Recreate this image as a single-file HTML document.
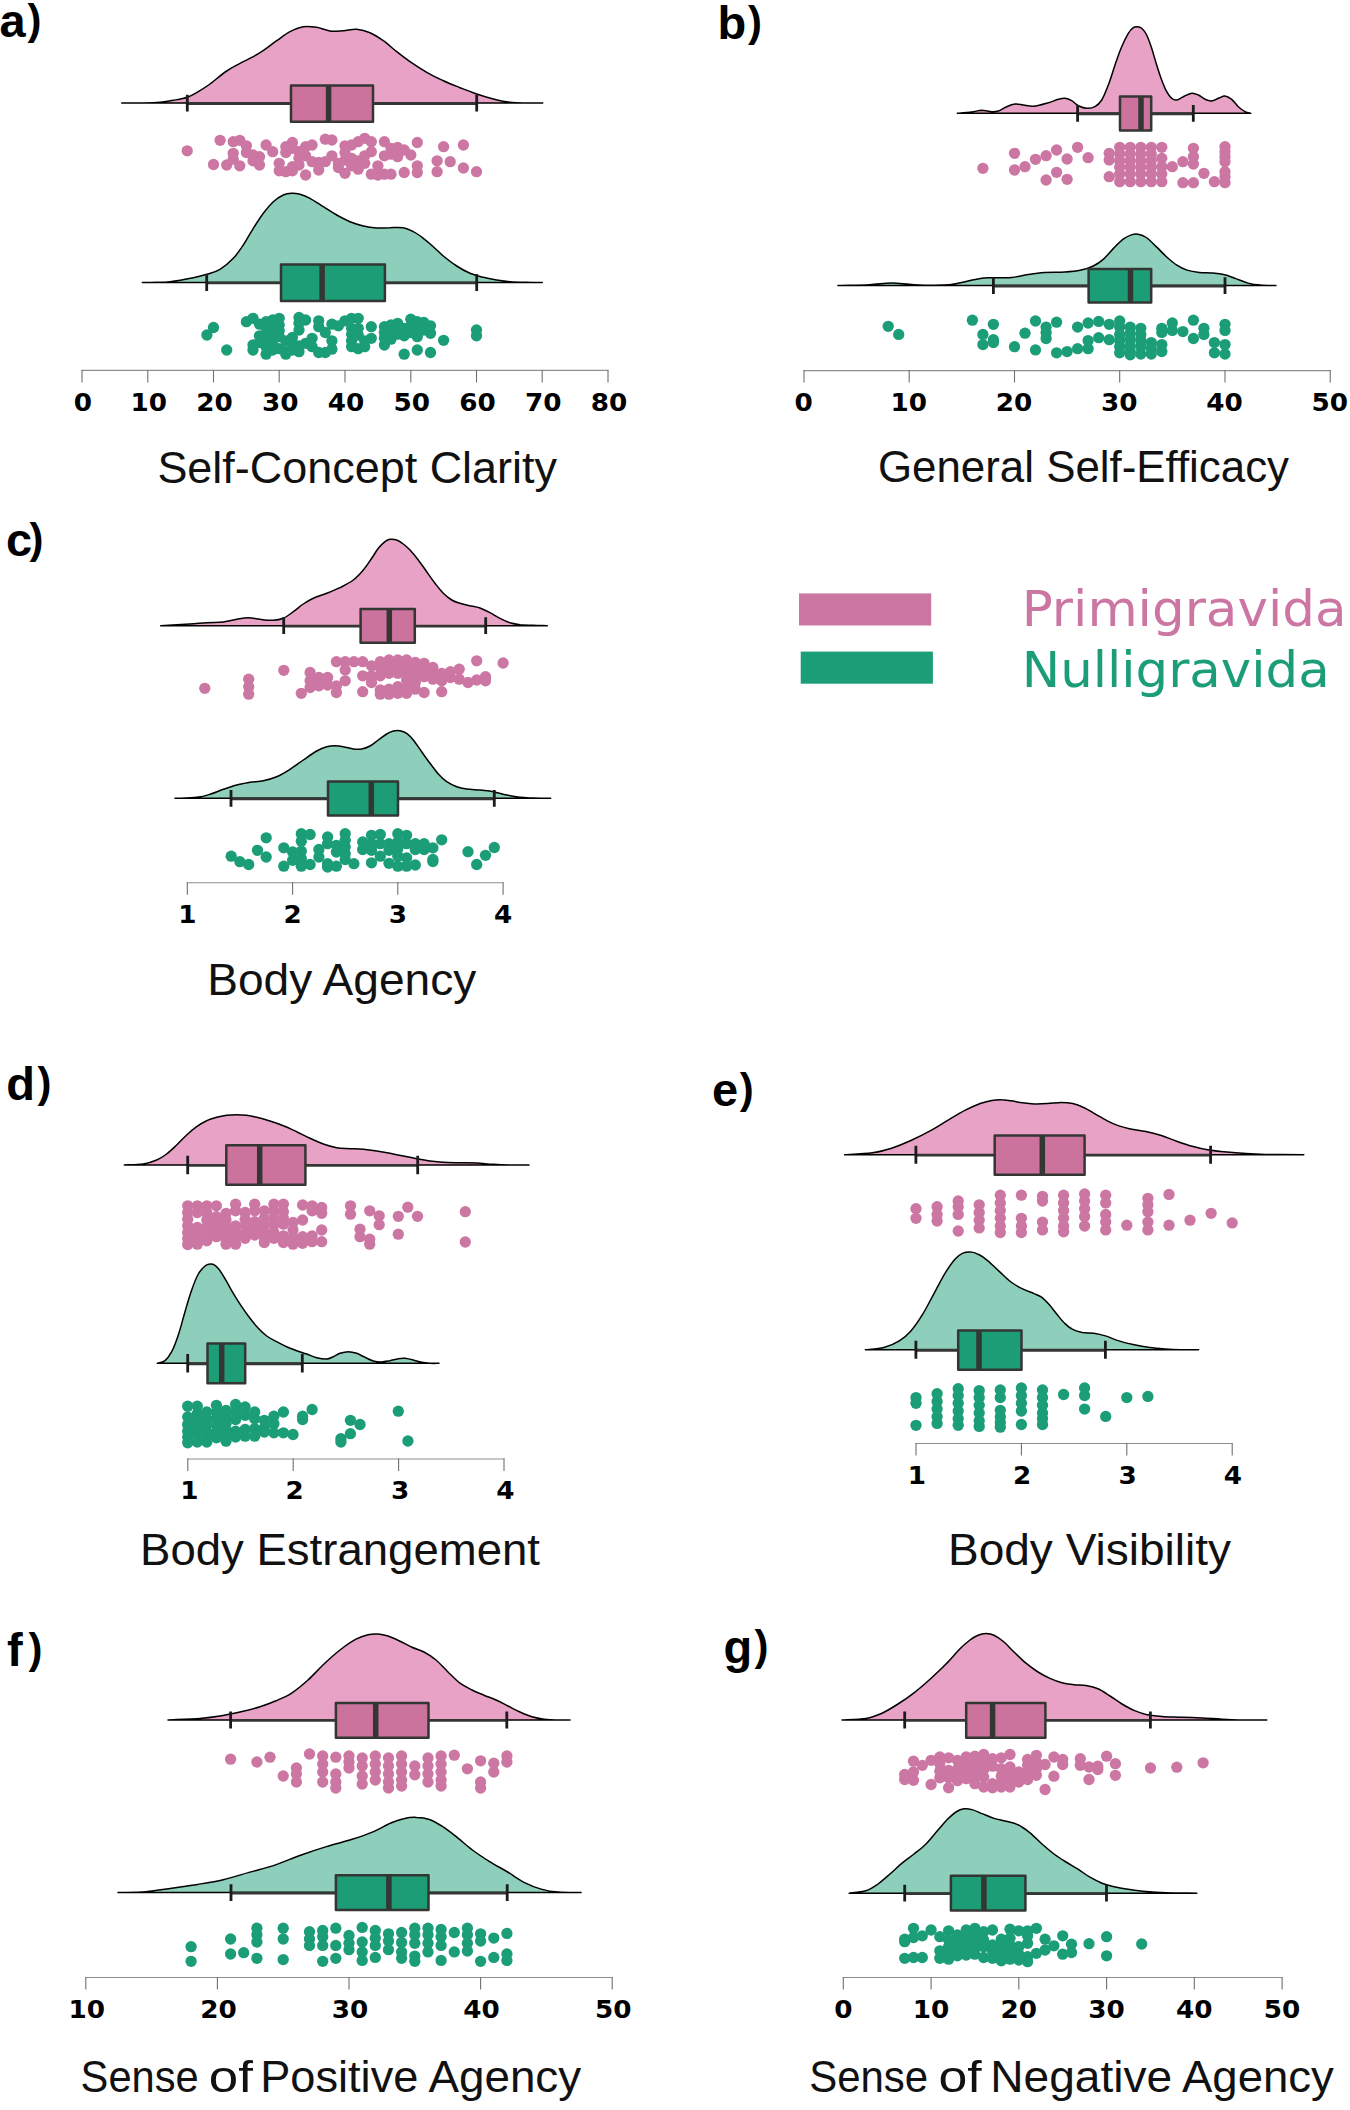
<!DOCTYPE html>
<html lang="en"><head><meta charset="utf-8"><title>Raincloud plots: Primigravida vs Nulligravida</title>
<style>
html,body{margin:0;padding:0;background:#fff}
body{width:1350px;height:2110px;overflow:hidden}
svg{display:block}
.tk{font-family:"DejaVu Sans","Liberation Sans",sans-serif;font-weight:bold;font-size:25.6px;text-anchor:middle;fill:#000}
.ti{font-family:"Liberation Sans","DejaVu Sans",sans-serif;font-size:45px;text-anchor:middle;fill:#111}
.pl{font-family:"Liberation Sans","DejaVu Sans",sans-serif;font-weight:bold;font-size:47px;fill:#000}
.pp{font-family:"Liberation Sans","DejaVu Sans",sans-serif;font-weight:bold;font-size:41.8px;fill:#000}
.lg{font-family:"DejaVu Sans","Liberation Sans",sans-serif;font-size:50px}
</style></head><body>
<svg width="1350" height="2110" viewBox="0 0 1350 2110">
<rect width="1350" height="2110" fill="#fff"/>
<g>
<path d="M121.7 103C125.3 103 136.9 103.1 143.3 103C149.7 102.9 155 102.8 160 102.3C165 101.9 168.8 101.2 173.3 100.3C177.9 99.5 183.2 98.8 187.3 97.3C191.5 95.9 194.6 93.9 198.3 91.7C202.1 89.4 205.3 87.4 210 84C214.7 80.6 221.1 74.7 226.7 71C232.2 67.3 237.8 64.7 243.3 61.7C248.9 58.6 254.4 56.2 260 52.7C265.6 49.2 271.7 44.2 276.7 40.7C281.7 37.2 285.6 34 290 31.7C294.4 29.3 298.9 27.4 303.3 26.7C307.8 25.9 312.2 26.6 316.7 27.3C321.1 28.1 325.6 30.4 330 31C334.4 31.6 338.9 30.9 343.3 30.7C347.8 30.4 352.2 29 356.7 29.3C361.1 29.7 365.6 30.8 370 32.7C374.4 34.6 378.9 37.5 383.3 40.7C387.8 43.8 392.2 48.2 396.7 51.7C401.1 55.2 405 58.2 410 61.7C415 65.1 421.1 69.2 426.7 72.3C432.2 75.5 437.8 78.1 443.3 80.7C448.9 83.2 454.4 85.4 460 87.7C465.6 89.9 471.1 92.1 476.7 94C482.2 95.9 487.8 97.6 493.3 99C498.9 100.4 504.4 101.7 510 102.3C515.6 103 521.2 102.9 526.7 103C532.1 103.1 540 103 542.7 103Z" fill="#E8A2C5" stroke="#000" stroke-width="1.5" stroke-linejoin="round"/>
<g fill="#CC77A3"><circle cx="187.2" cy="150.8" r="5.65"/><circle cx="213.5" cy="164.5" r="5.65"/><circle cx="220.1" cy="140.3" r="5.65"/><circle cx="226.7" cy="165" r="5.65"/><circle cx="233.2" cy="141.7" r="5.65"/><circle cx="233.2" cy="153.3" r="5.65"/><circle cx="233.2" cy="159.2" r="5.65"/><circle cx="239.8" cy="140.3" r="5.65"/><circle cx="239.8" cy="165.8" r="5.65"/><circle cx="246.4" cy="145.8" r="5.65"/><circle cx="246.4" cy="152.5" r="5.65"/><circle cx="253" cy="155" r="5.65"/><circle cx="253" cy="160.8" r="5.65"/><circle cx="259.5" cy="156.7" r="5.65"/><circle cx="259.5" cy="165" r="5.65"/><circle cx="266.1" cy="145" r="5.65"/><circle cx="272.7" cy="151.7" r="5.65"/><circle cx="279.2" cy="163.3" r="5.65"/><circle cx="279.2" cy="170.8" r="5.65"/><circle cx="285.8" cy="146.7" r="5.65"/><circle cx="285.8" cy="152.5" r="5.65"/><circle cx="285.8" cy="171.7" r="5.65"/><circle cx="292.4" cy="142.5" r="5.65"/><circle cx="292.4" cy="148.3" r="5.65"/><circle cx="292.4" cy="166.7" r="5.65"/><circle cx="292.4" cy="170.8" r="5.65"/><circle cx="299" cy="151.7" r="5.65"/><circle cx="299" cy="158.3" r="5.65"/><circle cx="299" cy="165" r="5.65"/><circle cx="305.6" cy="146.7" r="5.65"/><circle cx="305.6" cy="155.8" r="5.65"/><circle cx="305.6" cy="175" r="5.65"/><circle cx="312.1" cy="145" r="5.65"/><circle cx="312.1" cy="161.7" r="5.65"/><circle cx="318.7" cy="162.5" r="5.65"/><circle cx="318.7" cy="170" r="5.65"/><circle cx="325.3" cy="139.2" r="5.65"/><circle cx="325.3" cy="161.7" r="5.65"/><circle cx="331.9" cy="140" r="5.65"/><circle cx="331.9" cy="155.8" r="5.65"/><circle cx="338.4" cy="163.3" r="5.65"/><circle cx="338.4" cy="167.5" r="5.65"/><circle cx="345" cy="145.8" r="5.65"/><circle cx="345" cy="152.5" r="5.65"/><circle cx="345" cy="160" r="5.65"/><circle cx="345" cy="173.3" r="5.65"/><circle cx="351.6" cy="145" r="5.65"/><circle cx="351.6" cy="158.3" r="5.65"/><circle cx="351.6" cy="165.8" r="5.65"/><circle cx="358.2" cy="141.7" r="5.65"/><circle cx="358.2" cy="160.8" r="5.65"/><circle cx="358.2" cy="169.2" r="5.65"/><circle cx="364.7" cy="138.3" r="5.65"/><circle cx="364.7" cy="155.8" r="5.65"/><circle cx="364.7" cy="163.3" r="5.65"/><circle cx="371.3" cy="141.7" r="5.65"/><circle cx="371.3" cy="151.7" r="5.65"/><circle cx="371.3" cy="174.2" r="5.65"/><circle cx="377.9" cy="165.8" r="5.65"/><circle cx="377.9" cy="175" r="5.65"/><circle cx="384.4" cy="141.7" r="5.65"/><circle cx="384.4" cy="155.8" r="5.65"/><circle cx="384.4" cy="174.2" r="5.65"/><circle cx="391" cy="148.3" r="5.65"/><circle cx="391" cy="154.2" r="5.65"/><circle cx="391" cy="174.2" r="5.65"/><circle cx="397.6" cy="147.5" r="5.65"/><circle cx="397.6" cy="156.7" r="5.65"/><circle cx="404.2" cy="150" r="5.65"/><circle cx="404.2" cy="172.5" r="5.65"/><circle cx="410.8" cy="155" r="5.65"/><circle cx="417.3" cy="142.5" r="5.65"/><circle cx="417.3" cy="165.8" r="5.65"/><circle cx="417.3" cy="172.5" r="5.65"/><circle cx="437.1" cy="160.8" r="5.65"/><circle cx="437.1" cy="171.7" r="5.65"/><circle cx="443.6" cy="146.7" r="5.65"/><circle cx="450.2" cy="161.7" r="5.65"/><circle cx="463.4" cy="145" r="5.65"/><circle cx="463.4" cy="168" r="5.65"/><circle cx="476.5" cy="171.7" r="5.65"/></g>
<path d="M187.3 103.6H476.7" stroke="#343634" stroke-width="2.9" fill="none"/>
<path d="M187.3 94.8V111.6M476.7 94.8V111.6" stroke="#1c1c1c" stroke-width="2.8" fill="none"/>
<rect x="291" y="85.4" width="82" height="36.3" fill="#CC739D" stroke="#343634" stroke-width="2.5" stroke-linejoin="round"/>
<path d="M328.6 85.4V121.7" stroke="#343634" stroke-width="5.5" fill="none"/>
<path d="M142.3 282.5C144.7 282.5 152.1 282.5 156.7 282.3C161.3 282.2 163.9 282.4 170 281.7C176.1 280.9 187.2 278.9 193.3 277.7C199.4 276.4 202.2 275.7 206.7 274.3C211.1 272.9 215.6 272 220 269.3C224.4 266.7 229.4 262.4 233.3 258.3C237.2 254.3 240 250 243.3 245C246.7 240 250 233.6 253.3 228.3C256.7 223.1 260 217.8 263.3 213.3C266.7 208.9 270 204.7 273.3 201.7C276.7 198.6 280.3 196.4 283.3 195C286.4 193.6 288.9 193.4 291.7 193.3C294.4 193.2 296.9 193.5 300 194.3C303.1 195.2 306.1 196.3 310 198.3C313.9 200.4 318.9 203.9 323.3 206.7C327.8 209.4 332.2 212.5 336.7 215C341.1 217.5 345.6 219.8 350 221.7C354.4 223.5 358.9 224.9 363.3 226C367.8 227.1 372.2 227.7 376.7 228C381.1 228.3 385.6 227.7 390 227.7C394.4 227.6 399.4 227 403.3 227.7C407.2 228.3 410 229.9 413.3 231.7C416.7 233.4 420 235.8 423.3 238.3C426.7 240.8 430 243.7 433.3 246.7C436.7 249.6 439.4 252.8 443.3 256C447.2 259.2 452.2 263.1 456.7 266C461.1 268.9 465.6 271.4 470 273.3C474.4 275.2 478.9 276.2 483.3 277.3C487.8 278.4 492.2 279.3 496.7 280C501.1 280.7 505 281.3 510 281.7C515 282.1 521.3 282.2 526.7 282.3C532.1 282.5 539.7 282.5 542.3 282.5Z" fill="#8ECFBB" stroke="#000" stroke-width="1.5" stroke-linejoin="round"/>
<g fill="#1B9E77"><circle cx="206.9" cy="335" r="5.65"/><circle cx="213.5" cy="327.5" r="5.65"/><circle cx="226.7" cy="350" r="5.65"/><circle cx="246.4" cy="321.7" r="5.65"/><circle cx="253" cy="318.3" r="5.65"/><circle cx="253" cy="345" r="5.65"/><circle cx="253" cy="350" r="5.65"/><circle cx="259.5" cy="324.2" r="5.65"/><circle cx="259.5" cy="335.8" r="5.65"/><circle cx="259.5" cy="342.5" r="5.65"/><circle cx="266.1" cy="321.7" r="5.65"/><circle cx="266.1" cy="327.5" r="5.65"/><circle cx="266.1" cy="333.7" r="5.65"/><circle cx="266.1" cy="340" r="5.65"/><circle cx="266.1" cy="346.7" r="5.65"/><circle cx="266.1" cy="354.2" r="5.65"/><circle cx="272.7" cy="320" r="5.65"/><circle cx="272.7" cy="325.8" r="5.65"/><circle cx="272.7" cy="331.7" r="5.65"/><circle cx="272.7" cy="338.3" r="5.65"/><circle cx="272.7" cy="344.2" r="5.65"/><circle cx="272.7" cy="350" r="5.65"/><circle cx="279.2" cy="318.3" r="5.65"/><circle cx="279.2" cy="325" r="5.65"/><circle cx="279.2" cy="330.8" r="5.65"/><circle cx="279.2" cy="336.7" r="5.65"/><circle cx="279.2" cy="348.7" r="5.65"/><circle cx="285.8" cy="340.8" r="5.65"/><circle cx="285.8" cy="351.7" r="5.65"/><circle cx="285.8" cy="354.2" r="5.65"/><circle cx="292.4" cy="337.5" r="5.65"/><circle cx="292.4" cy="344.2" r="5.65"/><circle cx="292.4" cy="350" r="5.65"/><circle cx="299" cy="317.5" r="5.65"/><circle cx="299" cy="323.3" r="5.65"/><circle cx="299" cy="330" r="5.65"/><circle cx="299" cy="345.8" r="5.65"/><circle cx="299" cy="351.7" r="5.65"/><circle cx="305.6" cy="320" r="5.65"/><circle cx="305.6" cy="343.3" r="5.65"/><circle cx="312.1" cy="338.3" r="5.65"/><circle cx="312.1" cy="346.7" r="5.65"/><circle cx="318.7" cy="320.8" r="5.65"/><circle cx="318.7" cy="326.7" r="5.65"/><circle cx="318.7" cy="352.5" r="5.65"/><circle cx="325.3" cy="332.5" r="5.65"/><circle cx="325.3" cy="352.5" r="5.65"/><circle cx="331.9" cy="324.2" r="5.65"/><circle cx="331.9" cy="340.8" r="5.65"/><circle cx="331.9" cy="349.2" r="5.65"/><circle cx="338.4" cy="325.8" r="5.65"/><circle cx="345" cy="320.8" r="5.65"/><circle cx="351.6" cy="318.3" r="5.65"/><circle cx="351.6" cy="328.3" r="5.65"/><circle cx="351.6" cy="334.2" r="5.65"/><circle cx="351.6" cy="340.8" r="5.65"/><circle cx="351.6" cy="346.7" r="5.65"/><circle cx="358.2" cy="318.3" r="5.65"/><circle cx="358.2" cy="328.3" r="5.65"/><circle cx="358.2" cy="335" r="5.65"/><circle cx="358.2" cy="348.7" r="5.65"/><circle cx="364.7" cy="340.8" r="5.65"/><circle cx="364.7" cy="346.7" r="5.65"/><circle cx="371.3" cy="326.7" r="5.65"/><circle cx="371.3" cy="338.3" r="5.65"/><circle cx="384.4" cy="326.7" r="5.65"/><circle cx="384.4" cy="332.5" r="5.65"/><circle cx="384.4" cy="338.3" r="5.65"/><circle cx="384.4" cy="345" r="5.65"/><circle cx="391" cy="325" r="5.65"/><circle cx="391" cy="332.5" r="5.65"/><circle cx="391" cy="339.2" r="5.65"/><circle cx="397.6" cy="323.3" r="5.65"/><circle cx="397.6" cy="329.2" r="5.65"/><circle cx="397.6" cy="334.2" r="5.65"/><circle cx="404.2" cy="328.3" r="5.65"/><circle cx="404.2" cy="335.8" r="5.65"/><circle cx="404.2" cy="354.2" r="5.65"/><circle cx="410.8" cy="319.2" r="5.65"/><circle cx="410.8" cy="325.8" r="5.65"/><circle cx="410.8" cy="332.5" r="5.65"/><circle cx="417.3" cy="321.7" r="5.65"/><circle cx="417.3" cy="330" r="5.65"/><circle cx="417.3" cy="336.7" r="5.65"/><circle cx="417.3" cy="350" r="5.65"/><circle cx="423.9" cy="322.5" r="5.65"/><circle cx="423.9" cy="330" r="5.65"/><circle cx="430.5" cy="325.8" r="5.65"/><circle cx="430.5" cy="333.3" r="5.65"/><circle cx="430.5" cy="352.5" r="5.65"/><circle cx="443.6" cy="340.3" r="5.65"/><circle cx="476.5" cy="330" r="5.65"/><circle cx="476.5" cy="335.8" r="5.65"/></g>
<path d="M206.7 282.9H476.7" stroke="#343634" stroke-width="2.9" fill="none"/>
<path d="M206.7 274.1V290.9M476.7 274.1V290.9" stroke="#1c1c1c" stroke-width="2.8" fill="none"/>
<rect x="281" y="264.6" width="103.9" height="36.4" fill="#1C9D76" stroke="#343634" stroke-width="2.5" stroke-linejoin="round"/>
<path d="M322.1 264.6V301" stroke="#343634" stroke-width="5.5" fill="none"/>
<path d="M81.5 370.4H608.5" stroke="#8e8e8e" stroke-width="1.1" fill="none"/>
<path d="M82 369.9V382.4M147.8 369.9V382.4M213.5 369.9V382.4M279.2 369.9V382.4M345 369.9V382.4M410.8 369.9V382.4M476.5 369.9V382.4M542.2 369.9V382.4M608 369.9V382.4" stroke="#707070" stroke-width="1.1" fill="none"/>
<text class="tk" transform="translate(83 410.8) scale(1.025 1)">0</text>
<text class="tk" transform="translate(148.8 410.8) scale(1.025 1)">10</text>
<text class="tk" transform="translate(214.5 410.8) scale(1.025 1)">20</text>
<text class="tk" transform="translate(280.2 410.8) scale(1.025 1)">30</text>
<text class="tk" transform="translate(346 410.8) scale(1.025 1)">40</text>
<text class="tk" transform="translate(411.8 410.8) scale(1.025 1)">50</text>
<text class="tk" transform="translate(477.5 410.8) scale(1.025 1)">60</text>
<text class="tk" transform="translate(543.2 410.8) scale(1.025 1)">70</text>
<text class="tk" transform="translate(609 410.8) scale(1.025 1)">80</text>
<text class="ti" x="357.2" y="482.7" textLength="399.6" lengthAdjust="spacingAndGlyphs">Self-Concept Clarity</text>
</g>
<g>
<path d="M957.3 113.3C959.7 113.1 967.6 112.5 971.7 112C975.7 111.5 978.3 110.4 981.7 110.3C985 110.3 988.9 111.6 991.7 111.7C994.4 111.8 995.8 111.8 998.3 111C1000.8 110.2 1003.9 107.8 1006.7 106.7C1009.4 105.5 1012.2 104.3 1015 104C1017.8 103.7 1020.3 104.6 1023.3 105C1026.4 105.4 1029.4 106.6 1033.3 106.3C1037.2 106.1 1042.5 104.5 1046.7 103.3C1050.8 102.2 1055.3 100.2 1058.3 99.3C1061.4 98.5 1062.8 98.1 1065 98.3C1067.2 98.6 1069.4 99.4 1071.7 100.7C1073.9 101.9 1075.8 104.4 1078.3 105.7C1080.8 106.9 1083.9 108.2 1086.7 108.3C1089.4 108.5 1092.5 108.1 1095 106.7C1097.5 105.3 1099.4 103.6 1101.7 100C1103.9 96.4 1106.1 90.8 1108.3 85C1110.6 79.2 1112.8 71.4 1115 65C1117.2 58.6 1119.4 51.9 1121.7 46.7C1123.9 41.4 1126.4 36.5 1128.3 33.3C1130.3 30.2 1131.8 28.8 1133.3 27.7C1134.8 26.6 1135.9 26.6 1137.3 26.7C1138.7 26.8 1140.1 26.9 1141.7 28.3C1143.2 29.7 1145 31.7 1146.7 35C1148.3 38.3 1150 43.3 1151.7 48.3C1153.3 53.3 1155 59.7 1156.7 65C1158.3 70.3 1160 75.6 1161.7 80C1163.3 84.4 1165 88.6 1166.7 91.7C1168.3 94.7 1170 96.9 1171.7 98.3C1173.3 99.7 1174.7 100.3 1176.7 100C1178.6 99.7 1180.8 97.8 1183.3 96.7C1185.8 95.6 1189.2 93.6 1191.7 93.3C1194.2 93.1 1196.1 94 1198.3 95C1200.6 96 1202.8 98.3 1205 99.3C1207.2 100.3 1209.4 101.2 1211.7 101C1213.9 100.8 1216.1 99.2 1218.3 98.3C1220.6 97.5 1222.8 95.8 1225 96C1227.2 96.2 1229.4 97.6 1231.7 99.3C1233.9 101.1 1236.1 104.6 1238.3 106.7C1240.6 108.7 1242.9 110.6 1245 111.7C1247.1 112.8 1249.7 113 1250.7 113.3Z" fill="#E8A2C5" stroke="#000" stroke-width="1.5" stroke-linejoin="round"/>
<g fill="#CC77A3"><circle cx="982.9" cy="168.3" r="5.65"/><circle cx="1014.5" cy="153.3" r="5.65"/><circle cx="1014.5" cy="170" r="5.65"/><circle cx="1025" cy="166.7" r="5.65"/><circle cx="1035.5" cy="159.3" r="5.65"/><circle cx="1046.1" cy="155.7" r="5.65"/><circle cx="1046.1" cy="180" r="5.65"/><circle cx="1056.6" cy="150" r="5.65"/><circle cx="1056.6" cy="172.3" r="5.65"/><circle cx="1067.1" cy="159" r="5.65"/><circle cx="1067.1" cy="179.3" r="5.65"/><circle cx="1077.6" cy="147.3" r="5.65"/><circle cx="1088.1" cy="157.7" r="5.65"/><circle cx="1109.2" cy="153.3" r="5.65"/><circle cx="1109.2" cy="160" r="5.65"/><circle cx="1109.2" cy="176.7" r="5.65"/><circle cx="1119.7" cy="147.3" r="5.65"/><circle cx="1119.7" cy="154" r="5.65"/><circle cx="1119.7" cy="160.7" r="5.65"/><circle cx="1119.7" cy="167.3" r="5.65"/><circle cx="1119.7" cy="174" r="5.65"/><circle cx="1119.7" cy="181.7" r="5.65"/><circle cx="1130.2" cy="147.3" r="5.65"/><circle cx="1130.2" cy="154" r="5.65"/><circle cx="1130.2" cy="160.7" r="5.65"/><circle cx="1130.2" cy="167.3" r="5.65"/><circle cx="1130.2" cy="174" r="5.65"/><circle cx="1130.2" cy="181.7" r="5.65"/><circle cx="1140.8" cy="147.3" r="5.65"/><circle cx="1140.8" cy="154" r="5.65"/><circle cx="1140.8" cy="160.7" r="5.65"/><circle cx="1140.8" cy="167.3" r="5.65"/><circle cx="1140.8" cy="174" r="5.65"/><circle cx="1140.8" cy="181.7" r="5.65"/><circle cx="1151.3" cy="147.3" r="5.65"/><circle cx="1151.3" cy="154" r="5.65"/><circle cx="1151.3" cy="160.7" r="5.65"/><circle cx="1151.3" cy="167.3" r="5.65"/><circle cx="1151.3" cy="174" r="5.65"/><circle cx="1151.3" cy="181.7" r="5.65"/><circle cx="1161.8" cy="147.3" r="5.65"/><circle cx="1161.8" cy="158.3" r="5.65"/><circle cx="1161.8" cy="166.7" r="5.65"/><circle cx="1161.8" cy="174" r="5.65"/><circle cx="1161.8" cy="181.7" r="5.65"/><circle cx="1172.3" cy="166.7" r="5.65"/><circle cx="1182.9" cy="161.7" r="5.65"/><circle cx="1182.9" cy="182.7" r="5.65"/><circle cx="1193.4" cy="148.3" r="5.65"/><circle cx="1193.4" cy="156.7" r="5.65"/><circle cx="1193.4" cy="164" r="5.65"/><circle cx="1193.4" cy="182.7" r="5.65"/><circle cx="1203.9" cy="173.3" r="5.65"/><circle cx="1214.4" cy="181.7" r="5.65"/><circle cx="1225" cy="146.7" r="5.65"/><circle cx="1225" cy="151.7" r="5.65"/><circle cx="1225" cy="156.7" r="5.65"/><circle cx="1225" cy="161.7" r="5.65"/><circle cx="1225" cy="171.7" r="5.65"/><circle cx="1225" cy="176.7" r="5.65"/><circle cx="1225" cy="182.7" r="5.65"/></g>
<path d="M1077.6 113.7H1193.3" stroke="#343634" stroke-width="2.9" fill="none"/>
<path d="M1077.6 104.9V121.7M1193.3 104.9V121.7" stroke="#1c1c1c" stroke-width="2.8" fill="none"/>
<rect x="1120" y="96.4" width="31.2" height="34" fill="#CC739D" stroke="#343634" stroke-width="2.5" stroke-linejoin="round"/>
<path d="M1141 96.4V130.4" stroke="#343634" stroke-width="5.5" fill="none"/>
<path d="M837.9 285.6C843.1 285.4 860.3 285.1 869.3 284.7C878.2 284.3 884.2 283.1 891.7 283.1C899.1 283.1 905.6 284.4 914.1 284.7C922.6 285.1 935.1 285.4 942.6 285.1C950.1 284.9 953.5 284.1 958.9 283.1C964.3 282.2 970.4 280.3 975.2 279.4C979.9 278.6 983.3 278.1 987.4 277.8C991.5 277.5 995.6 277.9 999.6 277.8C1003.7 277.7 1007.1 278 1011.9 277.4C1016.6 276.9 1022.7 275.4 1028.1 274.6C1033.6 273.7 1038.3 272.9 1044.4 272.5C1050.6 272.1 1058.7 272.5 1064.8 272.1C1070.9 271.7 1076.4 271.1 1081.1 270.1C1085.9 269.1 1089.6 267.8 1093.3 266C1097.1 264.2 1100.1 262.1 1103.5 259.1C1106.9 256.1 1110.3 251.5 1113.7 248.1C1117.1 244.7 1120.8 240.9 1123.9 238.7C1126.9 236.5 1129.7 235.4 1132 234.6C1134.4 233.9 1135.8 233.7 1138.1 234.2C1140.5 234.7 1143.2 235.4 1146.3 237.5C1149.4 239.6 1153.1 243.6 1156.5 246.9C1159.9 250.1 1163.3 254 1166.7 257C1170.1 260.1 1173.5 263 1176.9 265.2C1180.2 267.4 1183.3 268.9 1187 270.1C1190.8 271.3 1195.2 272 1199.3 272.5C1203.3 273 1207.4 272.6 1211.5 272.9C1215.6 273.3 1219.6 273.6 1223.7 274.6C1227.8 275.5 1231.9 277.2 1235.9 278.6C1240 280.1 1244.1 282 1248.1 283.1C1252.2 284.2 1255.8 284.7 1260.4 285.1C1265 285.6 1273.3 285.5 1275.9 285.6Z" fill="#8ECFBB" stroke="#000" stroke-width="1.5" stroke-linejoin="round"/>
<g fill="#1B9E77"><circle cx="888.2" cy="326.3" r="5.65"/><circle cx="898.7" cy="334.4" r="5.65"/><circle cx="972.4" cy="320.2" r="5.65"/><circle cx="982.9" cy="334.4" r="5.65"/><circle cx="982.9" cy="344.6" r="5.65"/><circle cx="993.4" cy="324.3" r="5.65"/><circle cx="993.4" cy="339.7" r="5.65"/><circle cx="993.4" cy="342.6" r="5.65"/><circle cx="1014.5" cy="346.7" r="5.65"/><circle cx="1025" cy="333.2" r="5.65"/><circle cx="1035.5" cy="321" r="5.65"/><circle cx="1035.5" cy="349.9" r="5.65"/><circle cx="1046.1" cy="327.1" r="5.65"/><circle cx="1046.1" cy="332.4" r="5.65"/><circle cx="1046.1" cy="338.5" r="5.65"/><circle cx="1056.6" cy="322.2" r="5.65"/><circle cx="1056.6" cy="352.8" r="5.65"/><circle cx="1067.1" cy="351.6" r="5.65"/><circle cx="1077.6" cy="327.1" r="5.65"/><circle cx="1077.6" cy="348.7" r="5.65"/><circle cx="1088.1" cy="323" r="5.65"/><circle cx="1088.1" cy="340.6" r="5.65"/><circle cx="1088.1" cy="348.7" r="5.65"/><circle cx="1098.7" cy="321.4" r="5.65"/><circle cx="1098.7" cy="337.7" r="5.65"/><circle cx="1109.2" cy="324.3" r="5.65"/><circle cx="1109.2" cy="339.7" r="5.65"/><circle cx="1119.7" cy="321" r="5.65"/><circle cx="1119.7" cy="327.1" r="5.65"/><circle cx="1119.7" cy="334.4" r="5.65"/><circle cx="1119.7" cy="340.6" r="5.65"/><circle cx="1119.7" cy="346.7" r="5.65"/><circle cx="1119.7" cy="352.8" r="5.65"/><circle cx="1130.2" cy="327.1" r="5.65"/><circle cx="1130.2" cy="333.2" r="5.65"/><circle cx="1130.2" cy="339.3" r="5.65"/><circle cx="1130.2" cy="345.4" r="5.65"/><circle cx="1130.2" cy="351.6" r="5.65"/><circle cx="1130.2" cy="354.8" r="5.65"/><circle cx="1140.8" cy="328.3" r="5.65"/><circle cx="1140.8" cy="334.4" r="5.65"/><circle cx="1140.8" cy="340.6" r="5.65"/><circle cx="1140.8" cy="346.7" r="5.65"/><circle cx="1140.8" cy="354" r="5.65"/><circle cx="1151.3" cy="342.6" r="5.65"/><circle cx="1151.3" cy="348.7" r="5.65"/><circle cx="1151.3" cy="354" r="5.65"/><circle cx="1161.8" cy="328.3" r="5.65"/><circle cx="1161.8" cy="332.4" r="5.65"/><circle cx="1161.8" cy="344.6" r="5.65"/><circle cx="1161.8" cy="351.6" r="5.65"/><circle cx="1172.3" cy="323" r="5.65"/><circle cx="1172.3" cy="330.4" r="5.65"/><circle cx="1182.9" cy="331.6" r="5.65"/><circle cx="1193.4" cy="320.2" r="5.65"/><circle cx="1193.4" cy="338.5" r="5.65"/><circle cx="1203.9" cy="328.3" r="5.65"/><circle cx="1203.9" cy="334.4" r="5.65"/><circle cx="1214.4" cy="342.6" r="5.65"/><circle cx="1214.4" cy="352.8" r="5.65"/><circle cx="1225" cy="324.3" r="5.65"/><circle cx="1225" cy="330.4" r="5.65"/><circle cx="1225" cy="344.6" r="5.65"/><circle cx="1225" cy="354" r="5.65"/></g>
<path d="M993.4 286H1225" stroke="#343634" stroke-width="2.9" fill="none"/>
<path d="M993.4 277.2V294M1225 277.2V294" stroke="#1c1c1c" stroke-width="2.8" fill="none"/>
<rect x="1088.6" y="269" width="62.6" height="33.6" fill="#1C9D76" stroke="#343634" stroke-width="2.5" stroke-linejoin="round"/>
<path d="M1130.5 269V302.6" stroke="#343634" stroke-width="5.5" fill="none"/>
<path d="M803.5 370.6H1330.7" stroke="#8e8e8e" stroke-width="1.1" fill="none"/>
<path d="M804 370.1V382.6M909.2 370.1V382.6M1014.5 370.1V382.6M1119.7 370.1V382.6M1225 370.1V382.6M1330.2 370.1V382.6" stroke="#707070" stroke-width="1.1" fill="none"/>
<text class="tk" transform="translate(803.6 411) scale(1.025 1)">0</text>
<text class="tk" transform="translate(908.8 411) scale(1.025 1)">10</text>
<text class="tk" transform="translate(1014.1 411) scale(1.025 1)">20</text>
<text class="tk" transform="translate(1119.3 411) scale(1.025 1)">30</text>
<text class="tk" transform="translate(1224.6 411) scale(1.025 1)">40</text>
<text class="tk" transform="translate(1329.8 411) scale(1.025 1)">50</text>
<text class="ti" x="1083.5" y="481.8" textLength="411" lengthAdjust="spacingAndGlyphs">General Self-Efficacy</text>
</g>
<g>
<path d="M160.7 625.7C165.6 625.4 182.3 624.5 190 624C197.7 623.5 201.1 623 206.7 622.7C212.2 622.3 218.3 622.6 223.3 622C228.3 621.4 232.5 620.1 236.7 619.3C240.8 618.6 244.4 617.7 248.3 617.7C252.2 617.7 255.8 618.9 260 619.3C264.2 619.8 269.4 620.5 273.3 620.3C277.2 620.2 280 619.8 283.3 618.3C286.7 616.9 290 614.1 293.3 611.7C296.7 609.3 300 606.2 303.3 604C306.7 601.8 309.4 600.1 313.3 598.3C317.2 596.6 322.2 595.1 326.7 593.3C331.1 591.6 335.6 589.9 340 587.7C344.4 585.4 349.4 582.9 353.3 580C357.2 577.1 360.3 573.6 363.3 570C366.4 566.4 369.2 561.9 371.7 558.3C374.2 554.7 376.1 551.1 378.3 548.3C380.6 545.6 383.1 543.2 385 541.7C386.9 540.2 388.1 539.6 390 539.3C391.9 539.1 394.4 539.2 396.7 540C398.9 540.8 401.1 542.3 403.3 544C405.6 545.7 407.5 547.3 410 550C412.5 552.7 415.6 556.4 418.3 560C421.1 563.6 423.9 567.8 426.7 571.7C429.4 575.6 432.2 579.7 435 583.3C437.8 586.9 440.6 590.6 443.3 593.3C446.1 596.1 448.9 598.3 451.7 600C454.4 601.7 456.9 602.4 460 603.3C463.1 604.3 466.7 604.9 470 605.7C473.3 606.4 476.7 606.8 480 608C483.3 609.2 486.7 610.9 490 612.7C493.3 614.4 496.7 616.7 500 618.3C503.3 620 506.7 621.6 510 622.7C513.3 623.7 516.1 624.2 520 624.7C523.9 625.1 528.8 625.2 533.3 625.3C537.9 625.5 545 625.6 547.3 625.7Z" fill="#E8A2C5" stroke="#000" stroke-width="1.5" stroke-linejoin="round"/>
<g fill="#CC77A3"><circle cx="204.8" cy="688.3" r="5.65"/><circle cx="248.7" cy="679.2" r="5.65"/><circle cx="248.7" cy="686.7" r="5.65"/><circle cx="248.7" cy="694.2" r="5.65"/><circle cx="283.8" cy="670.3" r="5.65"/><circle cx="301.3" cy="693.3" r="5.65"/><circle cx="310.1" cy="672.5" r="5.65"/><circle cx="310.1" cy="680.8" r="5.65"/><circle cx="310.1" cy="687.5" r="5.65"/><circle cx="318.9" cy="677.5" r="5.65"/><circle cx="318.9" cy="685.8" r="5.65"/><circle cx="327.6" cy="677.5" r="5.65"/><circle cx="327.6" cy="685" r="5.65"/><circle cx="336.4" cy="661.7" r="5.65"/><circle cx="336.4" cy="685.8" r="5.65"/><circle cx="336.4" cy="692.5" r="5.65"/><circle cx="345.2" cy="661.7" r="5.65"/><circle cx="345.2" cy="670" r="5.65"/><circle cx="345.2" cy="680.8" r="5.65"/><circle cx="353.9" cy="661.7" r="5.65"/><circle cx="362.7" cy="661.7" r="5.65"/><circle cx="362.7" cy="675.8" r="5.65"/><circle cx="362.7" cy="691.7" r="5.65"/><circle cx="371.5" cy="665.8" r="5.65"/><circle cx="371.5" cy="675.8" r="5.65"/><circle cx="371.5" cy="682.5" r="5.65"/><circle cx="380.3" cy="661.7" r="5.65"/><circle cx="380.3" cy="668.3" r="5.65"/><circle cx="380.3" cy="675.8" r="5.65"/><circle cx="380.3" cy="690" r="5.65"/><circle cx="380.3" cy="694.2" r="5.65"/><circle cx="389" cy="660" r="5.65"/><circle cx="389" cy="666.7" r="5.65"/><circle cx="389" cy="673.3" r="5.65"/><circle cx="389" cy="689.2" r="5.65"/><circle cx="389" cy="694.2" r="5.65"/><circle cx="397.8" cy="660" r="5.65"/><circle cx="397.8" cy="666.7" r="5.65"/><circle cx="397.8" cy="673.3" r="5.65"/><circle cx="397.8" cy="686.7" r="5.65"/><circle cx="397.8" cy="693.3" r="5.65"/><circle cx="406.6" cy="660" r="5.65"/><circle cx="406.6" cy="666.7" r="5.65"/><circle cx="406.6" cy="673.3" r="5.65"/><circle cx="406.6" cy="680" r="5.65"/><circle cx="406.6" cy="686.7" r="5.65"/><circle cx="406.6" cy="693.3" r="5.65"/><circle cx="415.3" cy="662.5" r="5.65"/><circle cx="415.3" cy="669.2" r="5.65"/><circle cx="415.3" cy="675.8" r="5.65"/><circle cx="415.3" cy="682.5" r="5.65"/><circle cx="415.3" cy="689.2" r="5.65"/><circle cx="424.1" cy="663.3" r="5.65"/><circle cx="424.1" cy="670" r="5.65"/><circle cx="424.1" cy="676.7" r="5.65"/><circle cx="424.1" cy="692.5" r="5.65"/><circle cx="432.9" cy="667.5" r="5.65"/><circle cx="432.9" cy="674.2" r="5.65"/><circle cx="432.9" cy="679.2" r="5.65"/><circle cx="441.7" cy="673.3" r="5.65"/><circle cx="441.7" cy="680.8" r="5.65"/><circle cx="441.7" cy="691.7" r="5.65"/><circle cx="450.4" cy="671.7" r="5.65"/><circle cx="450.4" cy="677.5" r="5.65"/><circle cx="459.2" cy="669.2" r="5.65"/><circle cx="459.2" cy="679.2" r="5.65"/><circle cx="468" cy="682.5" r="5.65"/><circle cx="476.7" cy="660.8" r="5.65"/><circle cx="476.7" cy="680" r="5.65"/><circle cx="485.5" cy="676.7" r="5.65"/><circle cx="485.5" cy="680.8" r="5.65"/><circle cx="503.1" cy="663" r="5.65"/></g>
<path d="M283.7 626.1H485.7" stroke="#343634" stroke-width="2.9" fill="none"/>
<path d="M283.7 617.3V634.1M485.7 617.3V634.1" stroke="#1c1c1c" stroke-width="2.8" fill="none"/>
<rect x="360.6" y="609" width="54.2" height="33.8" fill="#CC739D" stroke="#343634" stroke-width="2.5" stroke-linejoin="round"/>
<path d="M389.3 609V642.8" stroke="#343634" stroke-width="5.5" fill="none"/>
<path d="M175 798.3C178.6 798.1 190.8 798 196.7 797.3C202.5 796.7 205.6 795.7 210 794.3C214.4 793 218.9 790.9 223.3 789.3C227.8 787.8 232.2 786.2 236.7 785C241.1 783.8 245.6 783.1 250 782.3C254.4 781.6 258.9 781.6 263.3 780.7C267.8 779.7 272.2 778.6 276.7 776.7C281.1 774.8 285.6 772.1 290 769.3C294.4 766.6 298.9 763.1 303.3 760C307.8 756.9 312.8 753.2 316.7 751C320.6 748.8 323.6 747.6 326.7 746.7C329.7 745.8 332.2 745.7 335 745.7C337.8 745.7 340.3 746.1 343.3 746.7C346.4 747.2 350.3 748.6 353.3 749C356.4 749.4 358.9 749.5 361.7 749C364.4 748.5 367.2 747.5 370 746C372.8 744.5 375.6 742 378.3 740C381.1 738 384.2 735.5 386.7 734C389.2 732.5 391.1 731.6 393.3 731C395.6 730.4 397.8 730.3 400 730.7C402.2 731.1 404.4 731.8 406.7 733.3C408.9 734.9 410.8 736.9 413.3 740C415.8 743.1 418.9 747.8 421.7 751.7C424.4 755.6 427.2 759.6 430 763.3C432.8 767.1 435.6 770.9 438.3 774C441.1 777.1 443.6 779.6 446.7 781.7C449.7 783.8 453.3 785.4 456.7 786.7C460 787.9 462.8 788.4 466.7 789C470.6 789.6 475.6 789.6 480 790C484.4 790.4 488.9 790.8 493.3 791.7C497.8 792.5 502.2 794.1 506.7 795C511.1 795.9 515.6 796.8 520 797.3C524.4 797.8 528.2 797.8 533.3 798C538.4 798.2 547.8 798.2 550.7 798.3Z" fill="#8ECFBB" stroke="#000" stroke-width="1.5" stroke-linejoin="round"/>
<g fill="#1B9E77"><circle cx="231.2" cy="856.2" r="5.65"/><circle cx="239.9" cy="861.7" r="5.65"/><circle cx="248.7" cy="864.5" r="5.65"/><circle cx="257.5" cy="850.3" r="5.65"/><circle cx="266.2" cy="837.8" r="5.65"/><circle cx="266.2" cy="857" r="5.65"/><circle cx="283.8" cy="847.8" r="5.65"/><circle cx="283.8" cy="866.2" r="5.65"/><circle cx="292.6" cy="852" r="5.65"/><circle cx="292.6" cy="860.3" r="5.65"/><circle cx="301.3" cy="833.7" r="5.65"/><circle cx="301.3" cy="841.2" r="5.65"/><circle cx="301.3" cy="851.2" r="5.65"/><circle cx="301.3" cy="858.7" r="5.65"/><circle cx="301.3" cy="866.2" r="5.65"/><circle cx="310.1" cy="834.5" r="5.65"/><circle cx="310.1" cy="864.5" r="5.65"/><circle cx="318.9" cy="849.5" r="5.65"/><circle cx="318.9" cy="857" r="5.65"/><circle cx="327.6" cy="837" r="5.65"/><circle cx="327.6" cy="843.7" r="5.65"/><circle cx="327.6" cy="863.7" r="5.65"/><circle cx="327.6" cy="867" r="5.65"/><circle cx="336.4" cy="845.3" r="5.65"/><circle cx="336.4" cy="852" r="5.65"/><circle cx="336.4" cy="866.2" r="5.65"/><circle cx="345.2" cy="833.7" r="5.65"/><circle cx="345.2" cy="840.3" r="5.65"/><circle cx="345.2" cy="847" r="5.65"/><circle cx="345.2" cy="853.7" r="5.65"/><circle cx="345.2" cy="859.5" r="5.65"/><circle cx="353.9" cy="863.7" r="5.65"/><circle cx="362.7" cy="842" r="5.65"/><circle cx="362.7" cy="849.5" r="5.65"/><circle cx="371.5" cy="835.3" r="5.65"/><circle cx="371.5" cy="843.7" r="5.65"/><circle cx="371.5" cy="850.3" r="5.65"/><circle cx="371.5" cy="862.8" r="5.65"/><circle cx="380.3" cy="834.5" r="5.65"/><circle cx="380.3" cy="843.7" r="5.65"/><circle cx="380.3" cy="856.2" r="5.65"/><circle cx="389" cy="843.7" r="5.65"/><circle cx="389" cy="850.3" r="5.65"/><circle cx="389" cy="863.3" r="5.65"/><circle cx="397.8" cy="833.7" r="5.65"/><circle cx="397.8" cy="842" r="5.65"/><circle cx="397.8" cy="848.7" r="5.65"/><circle cx="397.8" cy="856.2" r="5.65"/><circle cx="397.8" cy="866.2" r="5.65"/><circle cx="406.6" cy="835.3" r="5.65"/><circle cx="406.6" cy="843.7" r="5.65"/><circle cx="406.6" cy="857.8" r="5.65"/><circle cx="406.6" cy="866.2" r="5.65"/><circle cx="415.3" cy="843.7" r="5.65"/><circle cx="415.3" cy="849.5" r="5.65"/><circle cx="415.3" cy="865" r="5.65"/><circle cx="424.1" cy="843.7" r="5.65"/><circle cx="424.1" cy="849.5" r="5.65"/><circle cx="432.9" cy="847.8" r="5.65"/><circle cx="432.9" cy="859.5" r="5.65"/><circle cx="432.9" cy="861.5" r="5.65"/><circle cx="441.7" cy="839.8" r="5.65"/><circle cx="468" cy="851.7" r="5.65"/><circle cx="476.7" cy="864.5" r="5.65"/><circle cx="485.5" cy="855.3" r="5.65"/><circle cx="494.3" cy="847.5" r="5.65"/></g>
<path d="M231 798.7H494.3" stroke="#343634" stroke-width="2.9" fill="none"/>
<path d="M231 789.9V806.7M494.3 789.9V806.7" stroke="#1c1c1c" stroke-width="2.8" fill="none"/>
<rect x="328" y="781.4" width="70" height="34" fill="#1C9D76" stroke="#343634" stroke-width="2.5" stroke-linejoin="round"/>
<path d="M371.3 781.4V815.4" stroke="#343634" stroke-width="5.5" fill="none"/>
<path d="M186.8 882.7H503.6" stroke="#8e8e8e" stroke-width="1.1" fill="none"/>
<path d="M187.3 882.2V894.7M292.6 882.2V894.7M397.8 882.2V894.7M503.1 882.2V894.7" stroke="#707070" stroke-width="1.1" fill="none"/>
<text class="tk" transform="translate(187.3 923.1) scale(1.025 1)">1</text>
<text class="tk" transform="translate(292.6 923.1) scale(1.025 1)">2</text>
<text class="tk" transform="translate(397.8 923.1) scale(1.025 1)">3</text>
<text class="tk" transform="translate(503.1 923.1) scale(1.025 1)">4</text>
<text class="ti" x="341.8" y="994.6" textLength="269.1" lengthAdjust="spacingAndGlyphs">Body Agency</text>
</g>
<g>
<path d="M124.3 1165C127.5 1164.8 137.9 1164.8 143.3 1164C148.7 1163.2 152.8 1161.7 156.7 1160C160.6 1158.3 163.3 1156.5 166.7 1154C170 1151.5 173.3 1148.2 176.7 1145C180 1141.8 183.3 1138.1 186.7 1135C190 1131.9 193.3 1129.1 196.7 1126.7C200 1124.3 203.3 1122.2 206.7 1120.7C210 1119.1 213.3 1118.2 216.7 1117.3C220 1116.4 223.3 1115.8 226.7 1115.3C230 1114.9 233.3 1114.7 236.7 1114.7C240 1114.7 243.3 1114.9 246.7 1115.3C250 1115.8 252.8 1116.4 256.7 1117.3C260.6 1118.3 265.6 1119.6 270 1121C274.4 1122.4 278.9 1123.9 283.3 1125.7C287.8 1127.4 292.2 1129.6 296.7 1131.7C301.1 1133.8 305.6 1136.3 310 1138.3C314.4 1140.4 318.9 1142.4 323.3 1144C327.8 1145.6 332.2 1146.9 336.7 1147.7C341.1 1148.4 345.6 1148.4 350 1148.7C354.4 1148.9 358.9 1148.9 363.3 1149.3C367.8 1149.7 372.2 1150.3 376.7 1151C381.1 1151.7 385.6 1152.5 390 1153.3C394.4 1154.2 398.9 1155.1 403.3 1156C407.8 1156.9 412.2 1157.8 416.7 1158.7C421.1 1159.5 425.6 1160.4 430 1161C434.4 1161.6 438.3 1162.1 443.3 1162.3C448.3 1162.6 454.4 1162.6 460 1162.7C465.6 1162.8 471.1 1162.7 476.7 1163C482.2 1163.3 487.8 1164 493.3 1164.3C498.9 1164.7 504.1 1164.9 510 1165C515.9 1165.1 525.8 1165 529 1165Z" fill="#E8A2C5" stroke="#000" stroke-width="1.5" stroke-linejoin="round"/>
<g fill="#CC77A3"><circle cx="187.7" cy="1205.8" r="5.65"/><circle cx="187.7" cy="1212.5" r="5.65"/><circle cx="187.7" cy="1219.2" r="5.65"/><circle cx="187.7" cy="1225.8" r="5.65"/><circle cx="187.7" cy="1232.5" r="5.65"/><circle cx="187.7" cy="1238.7" r="5.65"/><circle cx="187.7" cy="1244.5" r="5.65"/><circle cx="197.3" cy="1205.8" r="5.65"/><circle cx="197.3" cy="1212.5" r="5.65"/><circle cx="197.3" cy="1227.5" r="5.65"/><circle cx="197.3" cy="1234.2" r="5.65"/><circle cx="197.3" cy="1240.8" r="5.65"/><circle cx="197.3" cy="1244.2" r="5.65"/><circle cx="206.8" cy="1205.8" r="5.65"/><circle cx="206.8" cy="1212.5" r="5.65"/><circle cx="206.8" cy="1220" r="5.65"/><circle cx="206.8" cy="1226.7" r="5.65"/><circle cx="206.8" cy="1233.7" r="5.65"/><circle cx="206.8" cy="1240.8" r="5.65"/><circle cx="216.4" cy="1205.8" r="5.65"/><circle cx="216.4" cy="1216.7" r="5.65"/><circle cx="216.4" cy="1223.3" r="5.65"/><circle cx="216.4" cy="1230" r="5.65"/><circle cx="216.4" cy="1236.7" r="5.65"/><circle cx="226" cy="1213.3" r="5.65"/><circle cx="226" cy="1220" r="5.65"/><circle cx="226" cy="1226.7" r="5.65"/><circle cx="226" cy="1233.3" r="5.65"/><circle cx="226" cy="1239.2" r="5.65"/><circle cx="226" cy="1244.2" r="5.65"/><circle cx="235.6" cy="1204.2" r="5.65"/><circle cx="235.6" cy="1210.8" r="5.65"/><circle cx="235.6" cy="1225.8" r="5.65"/><circle cx="235.6" cy="1232.5" r="5.65"/><circle cx="235.6" cy="1238.3" r="5.65"/><circle cx="235.6" cy="1244.2" r="5.65"/><circle cx="245.1" cy="1212.5" r="5.65"/><circle cx="245.1" cy="1219.2" r="5.65"/><circle cx="245.1" cy="1225.8" r="5.65"/><circle cx="245.1" cy="1232.5" r="5.65"/><circle cx="245.1" cy="1238.3" r="5.65"/><circle cx="254.7" cy="1204.2" r="5.65"/><circle cx="254.7" cy="1210.8" r="5.65"/><circle cx="254.7" cy="1221.7" r="5.65"/><circle cx="254.7" cy="1228.3" r="5.65"/><circle cx="254.7" cy="1235" r="5.65"/><circle cx="264.3" cy="1210.8" r="5.65"/><circle cx="264.3" cy="1218.3" r="5.65"/><circle cx="264.3" cy="1225" r="5.65"/><circle cx="264.3" cy="1231.7" r="5.65"/><circle cx="264.3" cy="1237.5" r="5.65"/><circle cx="264.3" cy="1242.5" r="5.65"/><circle cx="273.9" cy="1204.2" r="5.65"/><circle cx="273.9" cy="1210.8" r="5.65"/><circle cx="273.9" cy="1218.3" r="5.65"/><circle cx="273.9" cy="1225" r="5.65"/><circle cx="273.9" cy="1232.5" r="5.65"/><circle cx="273.9" cy="1238.3" r="5.65"/><circle cx="283.4" cy="1204.2" r="5.65"/><circle cx="283.4" cy="1211.7" r="5.65"/><circle cx="283.4" cy="1218.3" r="5.65"/><circle cx="283.4" cy="1224.2" r="5.65"/><circle cx="283.4" cy="1235.8" r="5.65"/><circle cx="283.4" cy="1242.5" r="5.65"/><circle cx="293" cy="1222.5" r="5.65"/><circle cx="293" cy="1230" r="5.65"/><circle cx="293" cy="1237.5" r="5.65"/><circle cx="293" cy="1244.2" r="5.65"/><circle cx="302.6" cy="1205" r="5.65"/><circle cx="302.6" cy="1220" r="5.65"/><circle cx="302.6" cy="1236.7" r="5.65"/><circle cx="302.6" cy="1243.3" r="5.65"/><circle cx="312.1" cy="1205.8" r="5.65"/><circle cx="312.1" cy="1210.8" r="5.65"/><circle cx="312.1" cy="1235.8" r="5.65"/><circle cx="312.1" cy="1241.7" r="5.65"/><circle cx="321.7" cy="1207.5" r="5.65"/><circle cx="321.7" cy="1213.3" r="5.65"/><circle cx="321.7" cy="1230" r="5.65"/><circle cx="321.7" cy="1241.7" r="5.65"/><circle cx="350.5" cy="1205.8" r="5.65"/><circle cx="350.5" cy="1214.2" r="5.65"/><circle cx="360" cy="1229.2" r="5.65"/><circle cx="360" cy="1236.7" r="5.65"/><circle cx="369.7" cy="1210.8" r="5.65"/><circle cx="369.7" cy="1239.2" r="5.65"/><circle cx="369.7" cy="1244.2" r="5.65"/><circle cx="379.2" cy="1215.8" r="5.65"/><circle cx="379.2" cy="1224.7" r="5.65"/><circle cx="398.3" cy="1216.3" r="5.65"/><circle cx="398.3" cy="1234.2" r="5.65"/><circle cx="407.8" cy="1207.2" r="5.65"/><circle cx="417.5" cy="1216.3" r="5.65"/><circle cx="465.3" cy="1211.7" r="5.65"/><circle cx="465.3" cy="1242" r="5.65"/></g>
<path d="M187.7 1165.4H417.7" stroke="#343634" stroke-width="2.9" fill="none"/>
<path d="M187.7 1155.8V1174.2M417.7 1155.8V1174.2" stroke="#1c1c1c" stroke-width="2.8" fill="none"/>
<rect x="226.3" y="1145.2" width="79.1" height="39.6" fill="#CC739D" stroke="#343634" stroke-width="2.5" stroke-linejoin="round"/>
<path d="M259.7 1145.2V1184.8" stroke="#343634" stroke-width="5.5" fill="none"/>
<path d="M157.3 1363.3C158.6 1362.9 162.6 1362.6 165 1360.7C167.4 1358.7 169.4 1355.9 171.7 1351.7C173.9 1347.4 176.1 1341.7 178.3 1335C180.6 1328.3 182.8 1319.2 185 1311.7C187.2 1304.2 189.4 1296.3 191.7 1290C193.9 1283.7 196.1 1278 198.3 1274C200.6 1270 203.1 1267.7 205 1266C206.9 1264.3 208.3 1264.1 210 1264C211.7 1263.9 213.3 1264.2 215 1265.3C216.7 1266.4 218.1 1267.9 220 1270.7C221.9 1273.4 224.4 1277.9 226.7 1281.7C228.9 1285.4 230.8 1289.2 233.3 1293.3C235.8 1297.5 238.9 1302.5 241.7 1306.7C244.4 1310.8 247.2 1314.7 250 1318.3C252.8 1321.9 255.6 1325.4 258.3 1328.3C261.1 1331.3 263.6 1333.8 266.7 1336C269.7 1338.2 273.3 1339.9 276.7 1341.7C280 1343.4 283.3 1345.2 286.7 1346.7C290 1348.2 293.3 1349.4 296.7 1350.7C300 1351.9 303.3 1352.8 306.7 1354C310 1355.2 313.3 1356.8 316.7 1357.7C320 1358.5 323.9 1359.2 326.7 1359C329.4 1358.8 331.1 1357.6 333.3 1356.7C335.6 1355.7 337.5 1354.2 340 1353.3C342.5 1352.5 345.6 1351.7 348.3 1351.7C351.1 1351.7 353.9 1352.4 356.7 1353.3C359.4 1354.3 362.2 1356.1 365 1357.3C367.8 1358.6 370.6 1360.2 373.3 1361C376.1 1361.8 378.9 1362.1 381.7 1362C384.4 1361.9 387.2 1361.2 390 1360.7C392.8 1360.1 395.8 1359.1 398.3 1358.7C400.8 1358.3 402.5 1358.1 405 1358.3C407.5 1358.6 410.6 1359.3 413.3 1360C416.1 1360.7 418.9 1361.8 421.7 1362.3C424.4 1362.9 427.1 1363.1 430 1363.3C432.9 1363.5 437.5 1363.3 439 1363.3Z" fill="#8ECFBB" stroke="#000" stroke-width="1.5" stroke-linejoin="round"/>
<g fill="#1B9E77"><circle cx="187.7" cy="1406.2" r="5.65"/><circle cx="187.7" cy="1417" r="5.65"/><circle cx="187.7" cy="1424.5" r="5.65"/><circle cx="187.7" cy="1431.2" r="5.65"/><circle cx="187.7" cy="1437" r="5.65"/><circle cx="187.7" cy="1442.8" r="5.65"/><circle cx="197.3" cy="1406.2" r="5.65"/><circle cx="197.3" cy="1413.7" r="5.65"/><circle cx="197.3" cy="1420.3" r="5.65"/><circle cx="197.3" cy="1427" r="5.65"/><circle cx="197.3" cy="1433.7" r="5.65"/><circle cx="197.3" cy="1442" r="5.65"/><circle cx="206.8" cy="1412" r="5.65"/><circle cx="206.8" cy="1418.7" r="5.65"/><circle cx="206.8" cy="1425.3" r="5.65"/><circle cx="206.8" cy="1432" r="5.65"/><circle cx="206.8" cy="1437.8" r="5.65"/><circle cx="206.8" cy="1442" r="5.65"/><circle cx="216.4" cy="1405.3" r="5.65"/><circle cx="216.4" cy="1412" r="5.65"/><circle cx="216.4" cy="1418.7" r="5.65"/><circle cx="216.4" cy="1425.3" r="5.65"/><circle cx="216.4" cy="1432" r="5.65"/><circle cx="216.4" cy="1437.8" r="5.65"/><circle cx="226" cy="1410.3" r="5.65"/><circle cx="226" cy="1417" r="5.65"/><circle cx="226" cy="1423.7" r="5.65"/><circle cx="226" cy="1430.3" r="5.65"/><circle cx="226" cy="1436.2" r="5.65"/><circle cx="226" cy="1441.2" r="5.65"/><circle cx="235.6" cy="1404.5" r="5.65"/><circle cx="235.6" cy="1412" r="5.65"/><circle cx="235.6" cy="1419.5" r="5.65"/><circle cx="235.6" cy="1431.2" r="5.65"/><circle cx="235.6" cy="1437" r="5.65"/><circle cx="245.1" cy="1407" r="5.65"/><circle cx="245.1" cy="1415.3" r="5.65"/><circle cx="245.1" cy="1429.5" r="5.65"/><circle cx="245.1" cy="1436.2" r="5.65"/><circle cx="254.7" cy="1412" r="5.65"/><circle cx="254.7" cy="1418.7" r="5.65"/><circle cx="254.7" cy="1428.7" r="5.65"/><circle cx="254.7" cy="1436.2" r="5.65"/><circle cx="264.3" cy="1420.3" r="5.65"/><circle cx="264.3" cy="1427.8" r="5.65"/><circle cx="264.3" cy="1432" r="5.65"/><circle cx="273.9" cy="1416.2" r="5.65"/><circle cx="273.9" cy="1423.7" r="5.65"/><circle cx="273.9" cy="1432.8" r="5.65"/><circle cx="283.4" cy="1412" r="5.65"/><circle cx="283.4" cy="1432.8" r="5.65"/><circle cx="293" cy="1434.5" r="5.65"/><circle cx="302.6" cy="1416.2" r="5.65"/><circle cx="302.6" cy="1419.5" r="5.65"/><circle cx="312.1" cy="1409.5" r="5.65"/><circle cx="340.9" cy="1438.7" r="5.65"/><circle cx="340.9" cy="1442" r="5.65"/><circle cx="350.4" cy="1420.3" r="5.65"/><circle cx="350.4" cy="1433.7" r="5.65"/><circle cx="360" cy="1424.5" r="5.65"/><circle cx="398.3" cy="1411.2" r="5.65"/><circle cx="407.9" cy="1441" r="5.65"/></g>
<path d="M187.7 1363.7H302.3" stroke="#343634" stroke-width="2.9" fill="none"/>
<path d="M187.7 1354.1V1372.5M302.3 1354.1V1372.5" stroke="#1c1c1c" stroke-width="2.8" fill="none"/>
<rect x="207.5" y="1343.5" width="37.7" height="39.7" fill="#1C9D76" stroke="#343634" stroke-width="2.5" stroke-linejoin="round"/>
<path d="M221.7 1343.5V1383.2" stroke="#343634" stroke-width="5.5" fill="none"/>
<path d="M187.3 1459H504.5" stroke="#8e8e8e" stroke-width="1.1" fill="none"/>
<path d="M187.8 1458.5V1471M293.2 1458.5V1471M398.6 1458.5V1471M504 1458.5V1471" stroke="#707070" stroke-width="1.1" fill="none"/>
<text class="tk" transform="translate(189.3 1499.4) scale(1.025 1)">1</text>
<text class="tk" transform="translate(294.7 1499.4) scale(1.025 1)">2</text>
<text class="tk" transform="translate(400.1 1499.4) scale(1.025 1)">3</text>
<text class="tk" transform="translate(505.5 1499.4) scale(1.025 1)">4</text>
<text class="ti" x="340" y="1565" textLength="400" lengthAdjust="spacingAndGlyphs">Body Estrangement</text>
</g>
<g>
<path d="M844.6 1154.7C849.3 1154.4 864.5 1153.9 872.4 1152.8C880.2 1151.7 885.2 1150.2 891.6 1148.2C898 1146.1 904.5 1143.4 910.9 1140.5C917.3 1137.6 923.7 1134.4 930.1 1130.9C936.6 1127.3 943.6 1122.7 949.4 1119.3C955.2 1115.9 959.7 1113.1 964.8 1110.4C970 1107.8 975.7 1105.2 980.2 1103.5C984.7 1101.8 988.2 1101.1 991.8 1100.4C995.3 1099.8 998.2 1099.6 1001.4 1099.7C1004.6 1099.7 1007.5 1100.3 1011 1100.8C1014.6 1101.3 1018.7 1102.2 1022.6 1102.7C1026.4 1103.3 1030 1103.8 1034.1 1103.9C1038.3 1104 1043.1 1103.8 1047.6 1103.5C1052.1 1103.3 1056.9 1102.4 1061.1 1102.4C1065.3 1102.4 1068.8 1102.6 1072.7 1103.5C1076.5 1104.4 1080.4 1106 1084.2 1107.7C1088.1 1109.5 1091.9 1112.1 1095.8 1114.3C1099.6 1116.5 1103.5 1118.9 1107.3 1120.8C1111.2 1122.8 1115 1124.5 1118.9 1125.9C1122.7 1127.2 1126 1128 1130.4 1128.9C1134.9 1129.9 1140.7 1130.5 1145.9 1131.6C1151 1132.7 1156.1 1133.9 1161.3 1135.5C1166.4 1137.1 1171.5 1139.5 1176.7 1141.3C1181.8 1143.1 1186.9 1144.9 1192.1 1146.3C1197.2 1147.7 1201.7 1148.8 1207.5 1149.7C1213.3 1150.7 1220.3 1151.4 1226.7 1152C1233.2 1152.7 1239.6 1153.2 1246 1153.6C1252.4 1154 1255.6 1154.2 1265.3 1154.4C1274.9 1154.5 1297.4 1154.6 1303.8 1154.7Z" fill="#E8A2C5" stroke="#000" stroke-width="1.5" stroke-linejoin="round"/>
<g fill="#CC77A3"><circle cx="916" cy="1208.7" r="5.65"/><circle cx="916" cy="1218.3" r="5.65"/><circle cx="937.1" cy="1206.7" r="5.65"/><circle cx="937.1" cy="1214.4" r="5.65"/><circle cx="937.1" cy="1221" r="5.65"/><circle cx="958.2" cy="1201" r="5.65"/><circle cx="958.2" cy="1206.7" r="5.65"/><circle cx="958.2" cy="1214.4" r="5.65"/><circle cx="958.2" cy="1231" r="5.65"/><circle cx="979.2" cy="1204.8" r="5.65"/><circle cx="979.2" cy="1212.5" r="5.65"/><circle cx="979.2" cy="1220.2" r="5.65"/><circle cx="979.2" cy="1227.9" r="5.65"/><circle cx="1000.3" cy="1195.2" r="5.65"/><circle cx="1000.3" cy="1202.9" r="5.65"/><circle cx="1000.3" cy="1210.6" r="5.65"/><circle cx="1000.3" cy="1218.3" r="5.65"/><circle cx="1000.3" cy="1226" r="5.65"/><circle cx="1000.3" cy="1232.5" r="5.65"/><circle cx="1021.4" cy="1195.2" r="5.65"/><circle cx="1021.4" cy="1218.3" r="5.65"/><circle cx="1021.4" cy="1226" r="5.65"/><circle cx="1021.4" cy="1232.5" r="5.65"/><circle cx="1042.5" cy="1196.3" r="5.65"/><circle cx="1042.5" cy="1201" r="5.65"/><circle cx="1042.5" cy="1222.1" r="5.65"/><circle cx="1042.5" cy="1229.9" r="5.65"/><circle cx="1063.6" cy="1195.2" r="5.65"/><circle cx="1063.6" cy="1202.9" r="5.65"/><circle cx="1063.6" cy="1210.6" r="5.65"/><circle cx="1063.6" cy="1218.3" r="5.65"/><circle cx="1063.6" cy="1226" r="5.65"/><circle cx="1063.6" cy="1231.8" r="5.65"/><circle cx="1084.6" cy="1194" r="5.65"/><circle cx="1084.6" cy="1201" r="5.65"/><circle cx="1084.6" cy="1208.7" r="5.65"/><circle cx="1084.6" cy="1216.4" r="5.65"/><circle cx="1084.6" cy="1226" r="5.65"/><circle cx="1105.7" cy="1195.2" r="5.65"/><circle cx="1105.7" cy="1202.9" r="5.65"/><circle cx="1105.7" cy="1214.4" r="5.65"/><circle cx="1105.7" cy="1222.1" r="5.65"/><circle cx="1105.7" cy="1229.9" r="5.65"/><circle cx="1126.8" cy="1225.2" r="5.65"/><circle cx="1147.9" cy="1198.3" r="5.65"/><circle cx="1147.9" cy="1204.8" r="5.65"/><circle cx="1147.9" cy="1211.7" r="5.65"/><circle cx="1147.9" cy="1222.1" r="5.65"/><circle cx="1147.9" cy="1229.9" r="5.65"/><circle cx="1169" cy="1194.4" r="5.65"/><circle cx="1169" cy="1225.2" r="5.65"/><circle cx="1190" cy="1220.2" r="5.65"/><circle cx="1211.1" cy="1213.3" r="5.65"/><circle cx="1232.2" cy="1222.9" r="5.65"/></g>
<path d="M915.9 1155.1H1210.6" stroke="#343634" stroke-width="2.9" fill="none"/>
<path d="M915.9 1145.7V1163.7M1210.6 1145.7V1163.7" stroke="#1c1c1c" stroke-width="2.8" fill="none"/>
<rect x="994.7" y="1135.5" width="89.9" height="39.2" fill="#CC739D" stroke="#343634" stroke-width="2.5" stroke-linejoin="round"/>
<path d="M1042.3 1135.5V1174.7" stroke="#343634" stroke-width="5.5" fill="none"/>
<path d="M865.4 1349.8C868.5 1349.4 878.3 1349 883.9 1347.5C889.6 1346 894.8 1343.7 899.3 1340.9C903.8 1338.2 907 1335.3 910.9 1330.9C914.7 1326.6 918.6 1321 922.4 1314.7C926.3 1308.5 930.1 1300.6 934 1293.6C937.9 1286.5 942 1278.1 945.6 1272.4C949.1 1266.6 952.3 1262.1 955.2 1258.9C958.1 1255.7 960.3 1254.3 962.9 1253.1C965.5 1252 968 1251.8 970.6 1252C973.2 1252.1 975.4 1252.8 978.3 1254.3C981.2 1255.7 984.4 1257.9 987.9 1260.8C991.5 1263.7 995.6 1268.1 999.5 1271.6C1003.3 1275.1 1007.2 1279.1 1011 1282C1014.9 1284.9 1018.7 1287 1022.6 1288.9C1026.4 1290.9 1030.9 1292.1 1034.1 1293.6C1037.4 1295 1039.3 1295.5 1041.9 1297.4C1044.4 1299.3 1047 1302.2 1049.6 1305.1C1052.1 1308 1054.7 1311.7 1057.3 1314.7C1059.8 1317.8 1062.4 1321.2 1065 1323.6C1067.5 1326 1069.8 1327.9 1072.7 1329.4C1075.6 1330.9 1078.8 1331.8 1082.3 1332.5C1085.8 1333.1 1090 1332.7 1093.9 1333.2C1097.7 1333.8 1101.2 1334.6 1105.4 1335.9C1109.6 1337.2 1114.1 1339.5 1118.9 1340.9C1123.7 1342.4 1129.2 1343.7 1134.3 1344.8C1139.4 1345.9 1144.6 1346.8 1149.7 1347.5C1154.8 1348.2 1160 1348.6 1165.1 1349C1170.2 1349.4 1174.9 1349.7 1180.5 1349.8C1186.1 1349.9 1195.6 1349.8 1198.6 1349.8Z" fill="#8ECFBB" stroke="#000" stroke-width="1.5" stroke-linejoin="round"/>
<g fill="#1B9E77"><circle cx="916" cy="1397.6" r="5.65"/><circle cx="916" cy="1403.3" r="5.65"/><circle cx="916" cy="1425.3" r="5.65"/><circle cx="937.1" cy="1393.7" r="5.65"/><circle cx="937.1" cy="1401.4" r="5.65"/><circle cx="937.1" cy="1409.1" r="5.65"/><circle cx="937.1" cy="1416.8" r="5.65"/><circle cx="937.1" cy="1423.4" r="5.65"/><circle cx="958.2" cy="1388.7" r="5.65"/><circle cx="958.2" cy="1395.6" r="5.65"/><circle cx="958.2" cy="1403.3" r="5.65"/><circle cx="958.2" cy="1411" r="5.65"/><circle cx="958.2" cy="1418.7" r="5.65"/><circle cx="958.2" cy="1425.3" r="5.65"/><circle cx="979.2" cy="1390.6" r="5.65"/><circle cx="979.2" cy="1397.6" r="5.65"/><circle cx="979.2" cy="1405.3" r="5.65"/><circle cx="979.2" cy="1413" r="5.65"/><circle cx="979.2" cy="1420.7" r="5.65"/><circle cx="979.2" cy="1426.4" r="5.65"/><circle cx="1000.3" cy="1389.9" r="5.65"/><circle cx="1000.3" cy="1397.6" r="5.65"/><circle cx="1000.3" cy="1410.3" r="5.65"/><circle cx="1000.3" cy="1416.8" r="5.65"/><circle cx="1000.3" cy="1422.6" r="5.65"/><circle cx="1000.3" cy="1427.2" r="5.65"/><circle cx="1021.4" cy="1387.9" r="5.65"/><circle cx="1021.4" cy="1395.6" r="5.65"/><circle cx="1021.4" cy="1403.3" r="5.65"/><circle cx="1021.4" cy="1411" r="5.65"/><circle cx="1021.4" cy="1424.5" r="5.65"/><circle cx="1042.5" cy="1389.9" r="5.65"/><circle cx="1042.5" cy="1397.6" r="5.65"/><circle cx="1042.5" cy="1405.3" r="5.65"/><circle cx="1042.5" cy="1413" r="5.65"/><circle cx="1042.5" cy="1418.7" r="5.65"/><circle cx="1042.5" cy="1424.5" r="5.65"/><circle cx="1063.6" cy="1394.5" r="5.65"/><circle cx="1084.6" cy="1387.9" r="5.65"/><circle cx="1084.6" cy="1395.6" r="5.65"/><circle cx="1084.6" cy="1409.1" r="5.65"/><circle cx="1105.7" cy="1416.4" r="5.65"/><circle cx="1126.8" cy="1397.6" r="5.65"/><circle cx="1147.9" cy="1396.4" r="5.65"/></g>
<path d="M915.9 1350.2H1105.4" stroke="#343634" stroke-width="2.9" fill="none"/>
<path d="M915.9 1340.8V1358.8M1105.4 1340.8V1358.8" stroke="#1c1c1c" stroke-width="2.8" fill="none"/>
<rect x="958.2" y="1330.4" width="63.3" height="39.4" fill="#1C9D76" stroke="#343634" stroke-width="2.5" stroke-linejoin="round"/>
<path d="M979 1330.4V1369.8" stroke="#343634" stroke-width="5.5" fill="none"/>
<path d="M915.5 1443.5H1232.7" stroke="#8e8e8e" stroke-width="1.1" fill="none"/>
<path d="M916 1443V1455.5M1021.4 1443V1455.5M1126.8 1443V1455.5M1232.2 1443V1455.5" stroke="#707070" stroke-width="1.1" fill="none"/>
<text class="tk" transform="translate(916.8 1483.9) scale(1.025 1)">1</text>
<text class="tk" transform="translate(1022.2 1483.9) scale(1.025 1)">2</text>
<text class="tk" transform="translate(1127.6 1483.9) scale(1.025 1)">3</text>
<text class="tk" transform="translate(1233 1483.9) scale(1.025 1)">4</text>
<text class="ti" x="1089.5" y="1565" textLength="283" lengthAdjust="spacingAndGlyphs">Body Visibility</text>
</g>
<g>
<path d="M168 1720C173.3 1719.7 191.3 1719.1 200 1718.4C208.7 1717.7 213.3 1717.1 220 1716C226.7 1714.9 233.3 1713.5 240 1712C246.7 1710.5 254 1708.7 260 1706.8C266 1704.9 270.7 1703.1 276 1700.8C281.3 1698.5 286.7 1696.3 292 1692.8C297.3 1689.3 302.7 1684.8 308 1680C313.3 1675.2 318.7 1669 324 1664C329.3 1659 334.7 1654.1 340 1650C345.3 1645.9 351.3 1641.7 356 1639.2C360.7 1636.7 364.3 1635.7 368 1634.8C371.7 1633.9 374.7 1633.8 378 1634C381.3 1634.2 384.3 1634.8 388 1636C391.7 1637.2 396 1639.3 400 1641.2C404 1643.1 408 1645.4 412 1647.2C416 1649 420 1649.9 424 1652C428 1654.1 432 1656.7 436 1660C440 1663.3 444 1668.1 448 1672C452 1675.9 456 1680.2 460 1683.2C464 1686.2 468 1688 472 1690C476 1692 480 1693.5 484 1695.2C488 1696.9 492 1698.2 496 1700C500 1701.8 504 1704 508 1706C512 1708 516 1710.2 520 1712C524 1713.8 528 1715.6 532 1716.8C536 1718 540 1718.7 544 1719.2C548 1719.7 551.7 1719.9 556 1720C560.3 1720.1 567.7 1720 570 1720Z" fill="#E8A2C5" stroke="#000" stroke-width="1.5" stroke-linejoin="round"/>
<g fill="#CC77A3"><circle cx="230.6" cy="1759.2" r="5.65"/><circle cx="256.9" cy="1762" r="5.65"/><circle cx="270" cy="1757.2" r="5.65"/><circle cx="283.2" cy="1776" r="5.65"/><circle cx="296.4" cy="1768" r="5.65"/><circle cx="296.4" cy="1774" r="5.65"/><circle cx="296.4" cy="1782" r="5.65"/><circle cx="309.5" cy="1754" r="5.65"/><circle cx="322.7" cy="1756" r="5.65"/><circle cx="322.7" cy="1764" r="5.65"/><circle cx="322.7" cy="1772" r="5.65"/><circle cx="322.7" cy="1782" r="5.65"/><circle cx="335.8" cy="1757.2" r="5.65"/><circle cx="335.8" cy="1774" r="5.65"/><circle cx="335.8" cy="1782" r="5.65"/><circle cx="335.8" cy="1788" r="5.65"/><circle cx="349" cy="1756" r="5.65"/><circle cx="349" cy="1762" r="5.65"/><circle cx="349" cy="1768" r="5.65"/><circle cx="362.2" cy="1758" r="5.65"/><circle cx="362.2" cy="1766" r="5.65"/><circle cx="362.2" cy="1776" r="5.65"/><circle cx="362.2" cy="1784" r="5.65"/><circle cx="375.3" cy="1756" r="5.65"/><circle cx="375.3" cy="1764" r="5.65"/><circle cx="375.3" cy="1772" r="5.65"/><circle cx="375.3" cy="1780" r="5.65"/><circle cx="388.5" cy="1758" r="5.65"/><circle cx="388.5" cy="1766" r="5.65"/><circle cx="388.5" cy="1774" r="5.65"/><circle cx="388.5" cy="1782" r="5.65"/><circle cx="388.5" cy="1788" r="5.65"/><circle cx="401.6" cy="1756" r="5.65"/><circle cx="401.6" cy="1764" r="5.65"/><circle cx="401.6" cy="1772" r="5.65"/><circle cx="401.6" cy="1780" r="5.65"/><circle cx="401.6" cy="1786" r="5.65"/><circle cx="414.8" cy="1766" r="5.65"/><circle cx="414.8" cy="1774.8" r="5.65"/><circle cx="428" cy="1758" r="5.65"/><circle cx="428" cy="1766" r="5.65"/><circle cx="428" cy="1774" r="5.65"/><circle cx="428" cy="1782" r="5.65"/><circle cx="441.1" cy="1756" r="5.65"/><circle cx="441.1" cy="1764" r="5.65"/><circle cx="441.1" cy="1772" r="5.65"/><circle cx="441.1" cy="1780" r="5.65"/><circle cx="441.1" cy="1786" r="5.65"/><circle cx="454.3" cy="1755.2" r="5.65"/><circle cx="467.4" cy="1768.8" r="5.65"/><circle cx="480.6" cy="1760.8" r="5.65"/><circle cx="480.6" cy="1782" r="5.65"/><circle cx="480.6" cy="1788" r="5.65"/><circle cx="493.8" cy="1763.2" r="5.65"/><circle cx="493.8" cy="1772" r="5.65"/><circle cx="506.9" cy="1756" r="5.65"/><circle cx="506.9" cy="1762" r="5.65"/></g>
<path d="M230.6 1720.4H506.8" stroke="#343634" stroke-width="2.9" fill="none"/>
<path d="M230.6 1711.6V1728.4M506.8 1711.6V1728.4" stroke="#1c1c1c" stroke-width="2.8" fill="none"/>
<rect x="335.9" y="1702.9" width="92.6" height="34.8" fill="#CC739D" stroke="#343634" stroke-width="2.5" stroke-linejoin="round"/>
<path d="M375.7 1702.9V1737.7" stroke="#343634" stroke-width="5.5" fill="none"/>
<path d="M118 1892.6C122.7 1892.4 137 1892.4 145.9 1891.7C154.9 1891 163.1 1889.5 171.7 1888.3C180.3 1887 188.9 1885.8 197.5 1884.4C206.1 1883 214.7 1881.7 223.3 1879.7C231.9 1877.7 240.4 1874.8 249 1872.4C257.6 1869.9 266.2 1867.9 274.8 1865.1C283.4 1862.2 292 1858.3 300.6 1855.2C309.2 1852.1 317.8 1849.2 326.4 1846.6C335 1843.9 344.3 1841.8 352.1 1839.3C360 1836.8 367.2 1834.3 373.6 1831.6C380.1 1828.8 385.8 1825.1 390.8 1823C395.8 1820.8 399.4 1819.6 403.7 1818.7C408 1817.7 412.3 1817.2 416.6 1817.4C420.9 1817.5 425.2 1818 429.5 1819.5C433.8 1821 438.1 1823.7 442.4 1826.4C446.7 1829.1 450.2 1831.9 455.3 1835.9C460.3 1839.8 466.7 1845.7 472.4 1850C478.2 1854.3 483.9 1858 489.6 1861.6C495.4 1865.2 501.1 1868.1 506.8 1871.5C512.5 1874.9 518.3 1879.3 524 1882.3C529.7 1885.2 535.5 1887.5 541.2 1889.1C546.9 1890.8 551.7 1891.6 558.4 1892.1C565 1892.7 577.3 1892.5 581.1 1892.6Z" fill="#8ECFBB" stroke="#000" stroke-width="1.5" stroke-linejoin="round"/>
<g fill="#1B9E77"><circle cx="191.1" cy="1946.7" r="5.65"/><circle cx="191.1" cy="1961.3" r="5.65"/><circle cx="230.6" cy="1939" r="5.65"/><circle cx="230.6" cy="1954" r="5.65"/><circle cx="243.7" cy="1952.7" r="5.65"/><circle cx="256.9" cy="1928.2" r="5.65"/><circle cx="256.9" cy="1934.7" r="5.65"/><circle cx="256.9" cy="1942" r="5.65"/><circle cx="256.9" cy="1958.3" r="5.65"/><circle cx="283.2" cy="1928.2" r="5.65"/><circle cx="283.2" cy="1939" r="5.65"/><circle cx="283.2" cy="1959.6" r="5.65"/><circle cx="309.5" cy="1931.7" r="5.65"/><circle cx="309.5" cy="1939" r="5.65"/><circle cx="309.5" cy="1945.4" r="5.65"/><circle cx="322.7" cy="1930.4" r="5.65"/><circle cx="322.7" cy="1936.8" r="5.65"/><circle cx="322.7" cy="1945.4" r="5.65"/><circle cx="322.7" cy="1961.3" r="5.65"/><circle cx="335.8" cy="1928.2" r="5.65"/><circle cx="335.8" cy="1945.4" r="5.65"/><circle cx="335.8" cy="1958.3" r="5.65"/><circle cx="349" cy="1935.5" r="5.65"/><circle cx="349" cy="1943.3" r="5.65"/><circle cx="349" cy="1949.7" r="5.65"/><circle cx="362.2" cy="1927.4" r="5.65"/><circle cx="362.2" cy="1942" r="5.65"/><circle cx="362.2" cy="1951.9" r="5.65"/><circle cx="362.2" cy="1960.4" r="5.65"/><circle cx="375.3" cy="1930.4" r="5.65"/><circle cx="375.3" cy="1938.1" r="5.65"/><circle cx="375.3" cy="1945.4" r="5.65"/><circle cx="375.3" cy="1957.4" r="5.65"/><circle cx="388.5" cy="1933.8" r="5.65"/><circle cx="388.5" cy="1941.1" r="5.65"/><circle cx="388.5" cy="1949.7" r="5.65"/><circle cx="401.6" cy="1932.5" r="5.65"/><circle cx="401.6" cy="1942.4" r="5.65"/><circle cx="401.6" cy="1951.9" r="5.65"/><circle cx="401.6" cy="1958.3" r="5.65"/><circle cx="414.8" cy="1928.2" r="5.65"/><circle cx="414.8" cy="1934.7" r="5.65"/><circle cx="414.8" cy="1943.3" r="5.65"/><circle cx="414.8" cy="1956.1" r="5.65"/><circle cx="414.8" cy="1961.3" r="5.65"/><circle cx="428" cy="1928.2" r="5.65"/><circle cx="428" cy="1934.7" r="5.65"/><circle cx="428" cy="1943.3" r="5.65"/><circle cx="428" cy="1951.9" r="5.65"/><circle cx="441.1" cy="1929.5" r="5.65"/><circle cx="441.1" cy="1936.8" r="5.65"/><circle cx="441.1" cy="1945.4" r="5.65"/><circle cx="441.1" cy="1960.4" r="5.65"/><circle cx="454.3" cy="1932.5" r="5.65"/><circle cx="454.3" cy="1951.9" r="5.65"/><circle cx="467.4" cy="1928.2" r="5.65"/><circle cx="467.4" cy="1934.7" r="5.65"/><circle cx="467.4" cy="1943.3" r="5.65"/><circle cx="467.4" cy="1951" r="5.65"/><circle cx="480.6" cy="1933.8" r="5.65"/><circle cx="480.6" cy="1941.1" r="5.65"/><circle cx="480.6" cy="1961.3" r="5.65"/><circle cx="493.8" cy="1938.1" r="5.65"/><circle cx="493.8" cy="1957.4" r="5.65"/><circle cx="506.9" cy="1933.4" r="5.65"/><circle cx="506.9" cy="1954" r="5.65"/><circle cx="506.9" cy="1960.4" r="5.65"/></g>
<path d="M231 1893H507.2" stroke="#343634" stroke-width="2.9" fill="none"/>
<path d="M231 1884.2V1901M507.2 1884.2V1901" stroke="#1c1c1c" stroke-width="2.8" fill="none"/>
<rect x="335.9" y="1875.2" width="92.6" height="34.8" fill="#1C9D76" stroke="#343634" stroke-width="2.5" stroke-linejoin="round"/>
<path d="M388.9 1875.2V1910" stroke="#343634" stroke-width="5.5" fill="none"/>
<path d="M85.3 1977.5H612.7" stroke="#8e8e8e" stroke-width="1.1" fill="none"/>
<path d="M85.8 1977V1989.5M217.4 1977V1989.5M349 1977V1989.5M480.6 1977V1989.5M612.2 1977V1989.5" stroke="#707070" stroke-width="1.1" fill="none"/>
<text class="tk" transform="translate(86.8 2017.9) scale(1.025 1)">10</text>
<text class="tk" transform="translate(218.4 2017.9) scale(1.025 1)">20</text>
<text class="tk" transform="translate(350 2017.9) scale(1.025 1)">30</text>
<text class="tk" transform="translate(481.6 2017.9) scale(1.025 1)">40</text>
<text class="tk" transform="translate(613.2 2017.9) scale(1.025 1)">50</text>
<text class="ti" style="text-anchor:start" y="2091.5"><tspan x="80.6" textLength="118.2" lengthAdjust="spacingAndGlyphs">Sense</tspan> <tspan x="208.8" textLength="44.1" lengthAdjust="spacingAndGlyphs">of</tspan> <tspan x="260.2" textLength="158.2" lengthAdjust="spacingAndGlyphs">Positive</tspan> <tspan x="428.4" textLength="152.8" lengthAdjust="spacingAndGlyphs">Agency</tspan></text>
</g>
<g>
<path d="M842 1720C846 1719.7 859.3 1719.5 866 1718.4C872.7 1717.3 876.7 1715.6 882 1713.2C887.3 1710.8 892.7 1707.4 898 1704C903.3 1700.6 908.7 1696.9 914 1692.8C919.3 1688.7 924.7 1684 930 1679.2C935.3 1674.4 941 1669.1 946 1664C951 1658.9 956 1652.8 960 1648.8C964 1644.8 967 1642.3 970 1640C973 1637.7 975.3 1636.3 978 1635.2C980.7 1634.1 983.3 1633.6 986 1633.6C988.7 1633.6 991 1633.8 994 1635.2C997 1636.6 1000.7 1639.2 1004 1642C1007.3 1644.8 1010.3 1648.5 1014 1652C1017.7 1655.5 1022 1659.9 1026 1663.2C1030 1666.5 1034 1669.5 1038 1672C1042 1674.5 1046 1676.6 1050 1678.4C1054 1680.2 1058 1681.7 1062 1682.8C1066 1683.9 1070 1684.3 1074 1684.8C1078 1685.3 1082 1684.9 1086 1685.6C1090 1686.3 1094 1687.1 1098 1688.8C1102 1690.5 1106 1693.5 1110 1696C1114 1698.5 1118 1701.6 1122 1704C1126 1706.4 1130 1708.7 1134 1710.4C1138 1712.1 1141.3 1713.4 1146 1714.4C1150.7 1715.4 1156 1715.9 1162 1716.4C1168 1716.9 1175.3 1716.9 1182 1717.2C1188.7 1717.5 1195.3 1717.7 1202 1718C1208.7 1718.3 1215.3 1718.9 1222 1719.2C1228.7 1719.5 1234.5 1719.9 1242 1720C1249.5 1720.1 1262.7 1720 1266.8 1720Z" fill="#E8A2C5" stroke="#000" stroke-width="1.5" stroke-linejoin="round"/>
<g fill="#CC77A3"><circle cx="904.7" cy="1774.5" r="5.65"/><circle cx="904.7" cy="1779.5" r="5.65"/><circle cx="913.5" cy="1761.2" r="5.65"/><circle cx="913.5" cy="1772" r="5.65"/><circle cx="913.5" cy="1780.3" r="5.65"/><circle cx="922.3" cy="1765.3" r="5.65"/><circle cx="931.1" cy="1760.3" r="5.65"/><circle cx="931.1" cy="1784.5" r="5.65"/><circle cx="939.8" cy="1757" r="5.65"/><circle cx="939.8" cy="1763.7" r="5.65"/><circle cx="939.8" cy="1771.2" r="5.65"/><circle cx="939.8" cy="1777.8" r="5.65"/><circle cx="948.6" cy="1757.8" r="5.65"/><circle cx="948.6" cy="1770.3" r="5.65"/><circle cx="948.6" cy="1777.8" r="5.65"/><circle cx="948.6" cy="1787.8" r="5.65"/><circle cx="957.4" cy="1760.3" r="5.65"/><circle cx="957.4" cy="1769.5" r="5.65"/><circle cx="957.4" cy="1773.7" r="5.65"/><circle cx="957.4" cy="1780.7" r="5.65"/><circle cx="966.2" cy="1757" r="5.65"/><circle cx="966.2" cy="1763.7" r="5.65"/><circle cx="966.2" cy="1772.8" r="5.65"/><circle cx="966.2" cy="1778.7" r="5.65"/><circle cx="974.9" cy="1756.2" r="5.65"/><circle cx="974.9" cy="1762.8" r="5.65"/><circle cx="974.9" cy="1769.5" r="5.65"/><circle cx="974.9" cy="1776.2" r="5.65"/><circle cx="974.9" cy="1783.7" r="5.65"/><circle cx="983.7" cy="1754.5" r="5.65"/><circle cx="983.7" cy="1761.2" r="5.65"/><circle cx="983.7" cy="1769.5" r="5.65"/><circle cx="983.7" cy="1777" r="5.65"/><circle cx="983.7" cy="1787" r="5.65"/><circle cx="992.5" cy="1758.7" r="5.65"/><circle cx="992.5" cy="1766.2" r="5.65"/><circle cx="992.5" cy="1783.7" r="5.65"/><circle cx="992.5" cy="1787.8" r="5.65"/><circle cx="1001.3" cy="1757.8" r="5.65"/><circle cx="1001.3" cy="1768.7" r="5.65"/><circle cx="1001.3" cy="1776.2" r="5.65"/><circle cx="1001.3" cy="1782.8" r="5.65"/><circle cx="1001.3" cy="1787" r="5.65"/><circle cx="1010" cy="1754.5" r="5.65"/><circle cx="1010" cy="1767" r="5.65"/><circle cx="1010" cy="1773.7" r="5.65"/><circle cx="1010" cy="1780.3" r="5.65"/><circle cx="1010" cy="1787" r="5.65"/><circle cx="1018.8" cy="1772" r="5.65"/><circle cx="1018.8" cy="1779.5" r="5.65"/><circle cx="1018.8" cy="1782" r="5.65"/><circle cx="1027.6" cy="1759.5" r="5.65"/><circle cx="1027.6" cy="1765.3" r="5.65"/><circle cx="1027.6" cy="1772" r="5.65"/><circle cx="1027.6" cy="1779.5" r="5.65"/><circle cx="1036.4" cy="1755.3" r="5.65"/><circle cx="1036.4" cy="1762" r="5.65"/><circle cx="1036.4" cy="1768.7" r="5.65"/><circle cx="1036.4" cy="1775.3" r="5.65"/><circle cx="1045.1" cy="1764.5" r="5.65"/><circle cx="1045.1" cy="1789.5" r="5.65"/><circle cx="1053.9" cy="1757" r="5.65"/><circle cx="1053.9" cy="1776.2" r="5.65"/><circle cx="1062.7" cy="1759.5" r="5.65"/><circle cx="1062.7" cy="1764.5" r="5.65"/><circle cx="1080.3" cy="1758.7" r="5.65"/><circle cx="1080.3" cy="1765.3" r="5.65"/><circle cx="1089" cy="1767" r="5.65"/><circle cx="1089" cy="1779.5" r="5.65"/><circle cx="1097.8" cy="1766.2" r="5.65"/><circle cx="1097.8" cy="1769.5" r="5.65"/><circle cx="1106.6" cy="1756.2" r="5.65"/><circle cx="1115.4" cy="1763.7" r="5.65"/><circle cx="1115.4" cy="1775.3" r="5.65"/><circle cx="1150.5" cy="1768" r="5.65"/><circle cx="1176.8" cy="1767.2" r="5.65"/><circle cx="1203.1" cy="1762.8" r="5.65"/></g>
<path d="M904.7 1720.4H1150.4" stroke="#343634" stroke-width="2.9" fill="none"/>
<path d="M904.7 1711.6V1728.4M1150.4 1711.6V1728.4" stroke="#1c1c1c" stroke-width="2.8" fill="none"/>
<rect x="966.2" y="1702.9" width="79.2" height="34.8" fill="#CC739D" stroke="#343634" stroke-width="2.5" stroke-linejoin="round"/>
<path d="M992.6 1702.9V1737.7" stroke="#343634" stroke-width="5.5" fill="none"/>
<path d="M849.2 1893.2C852 1892.8 861.2 1892.3 866 1890.8C870.8 1889.3 874 1886.8 878 1884C882 1881.2 886 1877.5 890 1874C894 1870.5 898 1866.5 902 1863.2C906 1859.9 910 1857.2 914 1854C918 1850.8 922 1848 926 1844C930 1840 934.3 1834.2 938 1830C941.7 1825.8 945 1821.8 948 1818.8C951 1815.8 953.3 1813.7 956 1812C958.7 1810.3 961.3 1809.2 964 1808.8C966.7 1808.4 969 1808.8 972 1809.6C975 1810.4 978.3 1812.1 982 1813.6C985.7 1815.1 990 1817.1 994 1818.4C998 1819.7 1002 1820.1 1006 1821.2C1010 1822.3 1014 1822.9 1018 1824.8C1022 1826.7 1026 1829.6 1030 1832.8C1034 1836 1038 1840.5 1042 1844C1046 1847.5 1050 1851 1054 1854C1058 1857 1062 1859.5 1066 1862C1070 1864.5 1074 1866.7 1078 1869.2C1082 1871.7 1086 1874.9 1090 1877.2C1094 1879.5 1098 1881.6 1102 1883.2C1106 1884.8 1109.3 1885.7 1114 1886.8C1118.7 1887.9 1124.7 1888.8 1130 1889.6C1135.3 1890.4 1140 1891.1 1146 1891.6C1152 1892.1 1157.5 1892.5 1166 1892.8C1174.5 1893.1 1191.7 1893.1 1196.8 1893.2Z" fill="#8ECFBB" stroke="#000" stroke-width="1.5" stroke-linejoin="round"/>
<g fill="#1B9E77"><circle cx="904.7" cy="1939.2" r="5.65"/><circle cx="904.7" cy="1941.7" r="5.65"/><circle cx="904.7" cy="1958.3" r="5.65"/><circle cx="913.5" cy="1928.3" r="5.65"/><circle cx="913.5" cy="1937.5" r="5.65"/><circle cx="913.5" cy="1957.5" r="5.65"/><circle cx="922.3" cy="1935.8" r="5.65"/><circle cx="922.3" cy="1957.5" r="5.65"/><circle cx="931.1" cy="1930" r="5.65"/><circle cx="939.8" cy="1936.7" r="5.65"/><circle cx="939.8" cy="1950.8" r="5.65"/><circle cx="939.8" cy="1958.3" r="5.65"/><circle cx="948.6" cy="1930.8" r="5.65"/><circle cx="948.6" cy="1940" r="5.65"/><circle cx="948.6" cy="1946.7" r="5.65"/><circle cx="948.6" cy="1953.3" r="5.65"/><circle cx="948.6" cy="1959.2" r="5.65"/><circle cx="957.4" cy="1935" r="5.65"/><circle cx="957.4" cy="1941.7" r="5.65"/><circle cx="957.4" cy="1948.3" r="5.65"/><circle cx="957.4" cy="1955.8" r="5.65"/><circle cx="966.2" cy="1930" r="5.65"/><circle cx="966.2" cy="1936.7" r="5.65"/><circle cx="966.2" cy="1943.3" r="5.65"/><circle cx="966.2" cy="1950" r="5.65"/><circle cx="966.2" cy="1955" r="5.65"/><circle cx="974.9" cy="1928.3" r="5.65"/><circle cx="974.9" cy="1935" r="5.65"/><circle cx="974.9" cy="1941.7" r="5.65"/><circle cx="974.9" cy="1948.3" r="5.65"/><circle cx="974.9" cy="1954.2" r="5.65"/><circle cx="983.7" cy="1931.7" r="5.65"/><circle cx="983.7" cy="1940" r="5.65"/><circle cx="983.7" cy="1946.7" r="5.65"/><circle cx="983.7" cy="1957.5" r="5.65"/><circle cx="992.5" cy="1930" r="5.65"/><circle cx="992.5" cy="1945" r="5.65"/><circle cx="992.5" cy="1950.8" r="5.65"/><circle cx="992.5" cy="1958.3" r="5.65"/><circle cx="1001.3" cy="1939.2" r="5.65"/><circle cx="1001.3" cy="1946.7" r="5.65"/><circle cx="1001.3" cy="1954.2" r="5.65"/><circle cx="1001.3" cy="1960.8" r="5.65"/><circle cx="1010" cy="1929.2" r="5.65"/><circle cx="1010" cy="1938.3" r="5.65"/><circle cx="1010" cy="1945.3" r="5.65"/><circle cx="1010" cy="1952.5" r="5.65"/><circle cx="1010" cy="1959.2" r="5.65"/><circle cx="1018.8" cy="1930.8" r="5.65"/><circle cx="1018.8" cy="1946.7" r="5.65"/><circle cx="1018.8" cy="1954.2" r="5.65"/><circle cx="1018.8" cy="1960" r="5.65"/><circle cx="1027.6" cy="1930.8" r="5.65"/><circle cx="1027.6" cy="1935.8" r="5.65"/><circle cx="1027.6" cy="1943.3" r="5.65"/><circle cx="1027.6" cy="1956.7" r="5.65"/><circle cx="1027.6" cy="1961.7" r="5.65"/><circle cx="1036.4" cy="1928.3" r="5.65"/><circle cx="1036.4" cy="1953.3" r="5.65"/><circle cx="1045.1" cy="1939.2" r="5.65"/><circle cx="1045.1" cy="1950" r="5.65"/><circle cx="1053.9" cy="1945.8" r="5.65"/><circle cx="1062.7" cy="1935.8" r="5.65"/><circle cx="1062.7" cy="1954.2" r="5.65"/><circle cx="1071.5" cy="1944.2" r="5.65"/><circle cx="1071.5" cy="1952.5" r="5.65"/><circle cx="1089" cy="1943.7" r="5.65"/><circle cx="1106.6" cy="1936.7" r="5.65"/><circle cx="1106.6" cy="1955.8" r="5.65"/><circle cx="1141.7" cy="1944" r="5.65"/></g>
<path d="M904.7 1893.6H1106.5" stroke="#343634" stroke-width="2.9" fill="none"/>
<path d="M904.7 1884.8V1901.6M1106.5 1884.8V1901.6" stroke="#1c1c1c" stroke-width="2.8" fill="none"/>
<rect x="950.9" y="1875.8" width="74.5" height="34.7" fill="#1C9D76" stroke="#343634" stroke-width="2.5" stroke-linejoin="round"/>
<path d="M983.9 1875.8V1910.5" stroke="#343634" stroke-width="5.5" fill="none"/>
<path d="M842.8 1977.5H1282.6" stroke="#8e8e8e" stroke-width="1.1" fill="none"/>
<path d="M843.3 1977V1989.5M931.1 1977V1989.5M1018.8 1977V1989.5M1106.6 1977V1989.5M1194.3 1977V1989.5M1282.1 1977V1989.5" stroke="#707070" stroke-width="1.1" fill="none"/>
<text class="tk" transform="translate(843.3 2017.9) scale(1.025 1)">0</text>
<text class="tk" transform="translate(931.1 2017.9) scale(1.025 1)">10</text>
<text class="tk" transform="translate(1018.8 2017.9) scale(1.025 1)">20</text>
<text class="tk" transform="translate(1106.6 2017.9) scale(1.025 1)">30</text>
<text class="tk" transform="translate(1194.3 2017.9) scale(1.025 1)">40</text>
<text class="tk" transform="translate(1282.1 2017.9) scale(1.025 1)">50</text>
<text class="ti" style="text-anchor:start" y="2091.5"><tspan x="809.2" textLength="119" lengthAdjust="spacingAndGlyphs">Sense</tspan> <tspan x="938.4" textLength="43.2" lengthAdjust="spacingAndGlyphs">of</tspan> <tspan x="990.2" textLength="182" lengthAdjust="spacingAndGlyphs">Negative</tspan> <tspan x="1182" textLength="151.8" lengthAdjust="spacingAndGlyphs">Agency</tspan></text>
</g>
<text class="pl" x="-0.4" y="37.3">a<tspan class="pp" x="27.6" dy="-2.9">)</tspan></text>
<text class="pl" x="717.6" y="39">b<tspan class="pp" x="748" dy="-2.9">)</tspan></text>
<text class="pl" x="6" y="556.3">c<tspan class="pp" x="29.6" dy="-2.9">)</tspan></text>
<text class="pl" x="6.2" y="1100">d<tspan class="pp" x="37.4" dy="-2.9">)</tspan></text>
<text class="pl" x="712" y="1106">e<tspan class="pp" x="739.8" dy="-2.9">)</tspan></text>
<text class="pl" x="7" y="1666">f<tspan class="pp" x="28.6" dy="-2.9">)</tspan></text>
<text class="pl" x="723.6" y="1662.5">g<tspan class="pp" x="754.4" dy="-2.9">)</tspan></text>
<rect x="799" y="593.4" width="132.2" height="32.1" fill="#CC77A3"/>
<text class="lg" x="1021.7" y="625.5" fill="#CC77A3" textLength="324.9" lengthAdjust="spacingAndGlyphs">Primigravida</text>
<rect x="800.7" y="651.6" width="132.2" height="32.1" fill="#1B9E77"/>
<text class="lg" x="1021.7" y="686.7" fill="#1B9E77" textLength="308" lengthAdjust="spacingAndGlyphs">Nulligravida</text>
</svg></body></html>
